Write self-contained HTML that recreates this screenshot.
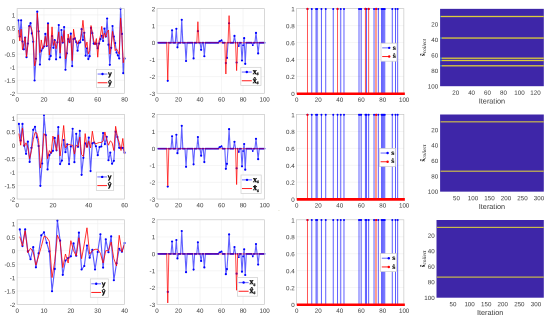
<!DOCTYPE html>
<html><head><meta charset="utf-8"><title>figure</title>
<style>html,body{margin:0;padding:0;background:#fff;}svg{display:block;}</style>
</head><body>
<svg width="550" height="320" viewBox="0 0 550 320" text-rendering="geometricPrecision" font-family='"Liberation Sans", sans-serif'>
<rect width="550" height="320" fill="#fff"/>
<rect x="17.1" y="8.65" width="107.5" height="84.65" fill="#fff"/>
<line x1="43.98" y1="8.65" x2="43.98" y2="93.3" stroke="#efefef" stroke-width="0.6"/>
<line x1="70.85" y1="8.65" x2="70.85" y2="93.3" stroke="#efefef" stroke-width="0.6"/>
<line x1="97.72" y1="8.65" x2="97.72" y2="93.3" stroke="#efefef" stroke-width="0.6"/>
<line x1="17.1" y1="80.22" x2="124.6" y2="80.22" stroke="#efefef" stroke-width="0.6"/>
<line x1="17.1" y1="67.14" x2="124.6" y2="67.14" stroke="#efefef" stroke-width="0.6"/>
<line x1="17.1" y1="54.06" x2="124.6" y2="54.06" stroke="#efefef" stroke-width="0.6"/>
<line x1="17.1" y1="40.98" x2="124.6" y2="40.98" stroke="#efefef" stroke-width="0.6"/>
<line x1="17.1" y1="27.9" x2="124.6" y2="27.9" stroke="#efefef" stroke-width="0.6"/>
<line x1="17.1" y1="14.82" x2="124.6" y2="14.82" stroke="#efefef" stroke-width="0.6"/>
<polyline points="18.44,20.32 19.79,36.54 21.13,20.32 22.48,41.51 23.82,49.35 25.16,37.58 26.51,57.2 27.85,43.6 29.19,26.07 30.54,23.19 31.88,33.4 33.23,41.77 34.57,80.48 35.91,58.77 37.26,11.68 38.6,31.3 39.94,64.53 41.29,50.66 42.63,48.31 43.98,46.48 45.32,33.92 46.66,45.95 48.01,23.46 49.35,59.29 50.69,55.89 52.04,36.01 53.38,47.78 54.73,40.2 56.07,59.29 57.41,42.29 58.76,25.03 60.1,57.46 61.44,30 62.79,42.55 64.13,27.12 65.47,69.76 66.82,53.28 68.16,39.15 69.51,42.03 70.85,33.66 72.19,66.09 73.54,39.15 74.88,38.37 76.22,42.03 77.57,50.66 78.91,42.81 80.26,42.29 81.6,29.21 82.94,39.94 84.29,32.87 85.63,55.63 86.97,48.31 88.32,59.03 89.66,56.15 91.01,27.9 92.35,33.13 93.69,43.6 95.04,43.6 96.38,43.6 97.72,48.31 99.07,43.6 100.41,39.15 101.76,35.75 103.1,40.98 104.44,28.69 105.79,36.54 107.13,18.49 108.47,44.64 109.82,64.79 111.16,47.78 112.51,26.07 113.85,36.54 115.19,43.08 116.54,52.49 117.88,55.37 119.22,58.51 120.57,8.81 121.91,33.92 123.26,73.16 124.6,58.51" fill="none" stroke="#0000ff" stroke-width="1.15" stroke-linejoin="round" stroke-opacity="0.65"/>
<circle cx="18.44" cy="20.32" r="1.1" fill="#0000ff"/>
<circle cx="19.79" cy="36.54" r="1.1" fill="#0000ff"/>
<circle cx="21.13" cy="20.32" r="1.1" fill="#0000ff"/>
<circle cx="22.48" cy="41.51" r="1.1" fill="#0000ff"/>
<circle cx="23.82" cy="49.35" r="1.1" fill="#0000ff"/>
<circle cx="25.16" cy="37.58" r="1.1" fill="#0000ff"/>
<circle cx="26.51" cy="57.2" r="1.1" fill="#0000ff"/>
<circle cx="27.85" cy="43.6" r="1.1" fill="#0000ff"/>
<circle cx="29.19" cy="26.07" r="1.1" fill="#0000ff"/>
<circle cx="30.54" cy="23.19" r="1.1" fill="#0000ff"/>
<circle cx="31.88" cy="33.4" r="1.1" fill="#0000ff"/>
<circle cx="33.23" cy="41.77" r="1.1" fill="#0000ff"/>
<circle cx="34.57" cy="80.48" r="1.1" fill="#0000ff"/>
<circle cx="35.91" cy="58.77" r="1.1" fill="#0000ff"/>
<circle cx="37.26" cy="11.68" r="1.1" fill="#0000ff"/>
<circle cx="38.6" cy="31.3" r="1.1" fill="#0000ff"/>
<circle cx="39.94" cy="64.53" r="1.1" fill="#0000ff"/>
<circle cx="41.29" cy="50.66" r="1.1" fill="#0000ff"/>
<circle cx="42.63" cy="48.31" r="1.1" fill="#0000ff"/>
<circle cx="43.98" cy="46.48" r="1.1" fill="#0000ff"/>
<circle cx="45.32" cy="33.92" r="1.1" fill="#0000ff"/>
<circle cx="46.66" cy="45.95" r="1.1" fill="#0000ff"/>
<circle cx="48.01" cy="23.46" r="1.1" fill="#0000ff"/>
<circle cx="49.35" cy="59.29" r="1.1" fill="#0000ff"/>
<circle cx="50.69" cy="55.89" r="1.1" fill="#0000ff"/>
<circle cx="52.04" cy="36.01" r="1.1" fill="#0000ff"/>
<circle cx="53.38" cy="47.78" r="1.1" fill="#0000ff"/>
<circle cx="54.73" cy="40.2" r="1.1" fill="#0000ff"/>
<circle cx="56.07" cy="59.29" r="1.1" fill="#0000ff"/>
<circle cx="57.41" cy="42.29" r="1.1" fill="#0000ff"/>
<circle cx="58.76" cy="25.03" r="1.1" fill="#0000ff"/>
<circle cx="60.1" cy="57.46" r="1.1" fill="#0000ff"/>
<circle cx="61.44" cy="30" r="1.1" fill="#0000ff"/>
<circle cx="62.79" cy="42.55" r="1.1" fill="#0000ff"/>
<circle cx="64.13" cy="27.12" r="1.1" fill="#0000ff"/>
<circle cx="65.47" cy="69.76" r="1.1" fill="#0000ff"/>
<circle cx="66.82" cy="53.28" r="1.1" fill="#0000ff"/>
<circle cx="68.16" cy="39.15" r="1.1" fill="#0000ff"/>
<circle cx="69.51" cy="42.03" r="1.1" fill="#0000ff"/>
<circle cx="70.85" cy="33.66" r="1.1" fill="#0000ff"/>
<circle cx="72.19" cy="66.09" r="1.1" fill="#0000ff"/>
<circle cx="73.54" cy="39.15" r="1.1" fill="#0000ff"/>
<circle cx="74.88" cy="38.37" r="1.1" fill="#0000ff"/>
<circle cx="76.22" cy="42.03" r="1.1" fill="#0000ff"/>
<circle cx="77.57" cy="50.66" r="1.1" fill="#0000ff"/>
<circle cx="78.91" cy="42.81" r="1.1" fill="#0000ff"/>
<circle cx="80.26" cy="42.29" r="1.1" fill="#0000ff"/>
<circle cx="81.6" cy="29.21" r="1.1" fill="#0000ff"/>
<circle cx="82.94" cy="39.94" r="1.1" fill="#0000ff"/>
<circle cx="84.29" cy="32.87" r="1.1" fill="#0000ff"/>
<circle cx="85.63" cy="55.63" r="1.1" fill="#0000ff"/>
<circle cx="86.97" cy="48.31" r="1.1" fill="#0000ff"/>
<circle cx="88.32" cy="59.03" r="1.1" fill="#0000ff"/>
<circle cx="89.66" cy="56.15" r="1.1" fill="#0000ff"/>
<circle cx="91.01" cy="27.9" r="1.1" fill="#0000ff"/>
<circle cx="92.35" cy="33.13" r="1.1" fill="#0000ff"/>
<circle cx="93.69" cy="43.6" r="1.1" fill="#0000ff"/>
<circle cx="95.04" cy="43.6" r="1.1" fill="#0000ff"/>
<circle cx="96.38" cy="43.6" r="1.1" fill="#0000ff"/>
<circle cx="97.72" cy="48.31" r="1.1" fill="#0000ff"/>
<circle cx="99.07" cy="43.6" r="1.1" fill="#0000ff"/>
<circle cx="100.41" cy="39.15" r="1.1" fill="#0000ff"/>
<circle cx="101.76" cy="35.75" r="1.1" fill="#0000ff"/>
<circle cx="103.1" cy="40.98" r="1.1" fill="#0000ff"/>
<circle cx="104.44" cy="28.69" r="1.1" fill="#0000ff"/>
<circle cx="105.79" cy="36.54" r="1.1" fill="#0000ff"/>
<circle cx="107.13" cy="18.49" r="1.1" fill="#0000ff"/>
<circle cx="108.47" cy="44.64" r="1.1" fill="#0000ff"/>
<circle cx="109.82" cy="64.79" r="1.1" fill="#0000ff"/>
<circle cx="111.16" cy="47.78" r="1.1" fill="#0000ff"/>
<circle cx="112.51" cy="26.07" r="1.1" fill="#0000ff"/>
<circle cx="113.85" cy="36.54" r="1.1" fill="#0000ff"/>
<circle cx="115.19" cy="43.08" r="1.1" fill="#0000ff"/>
<circle cx="116.54" cy="52.49" r="1.1" fill="#0000ff"/>
<circle cx="117.88" cy="55.37" r="1.1" fill="#0000ff"/>
<circle cx="119.22" cy="58.51" r="1.1" fill="#0000ff"/>
<circle cx="120.57" cy="8.81" r="1.1" fill="#0000ff"/>
<circle cx="121.91" cy="33.92" r="1.1" fill="#0000ff"/>
<circle cx="123.26" cy="73.16" r="1.1" fill="#0000ff"/>
<circle cx="124.6" cy="58.51" r="1.1" fill="#0000ff"/>
<polyline points="18.44,30 19.79,40.98 21.13,29.21 22.48,49.88 23.82,43.45 25.16,37.06 26.51,56.94 27.85,45.04 29.19,26.07 30.54,26.22 31.88,30 33.23,38.75 34.57,65.83 35.91,60.6 37.26,12.99 38.6,32.09 39.94,52.75 41.29,39.94 42.63,48.59 43.98,45.95 45.32,36.37 46.66,46.1 48.01,23.98 49.35,54.98 50.69,46.25 52.04,26.86 53.38,45.48 54.73,40.63 56.07,48.79 57.41,41.57 58.76,31.83 60.1,53.15 61.44,36.04 62.79,42.41 64.13,30.43 65.47,58.97 66.82,52.56 68.16,33.97 69.51,42.89 70.85,35.53 72.19,60.6 73.54,29.21 74.88,38.37 76.22,40.73 77.57,44.19 78.91,40.37 80.26,40.13 81.6,33.53 82.94,20.32 84.29,34.46 85.63,47.57 86.97,41.98 88.32,53.8 89.66,50.69 91.01,25.55 92.35,33.13 93.69,40.72 95.04,45.04 96.38,38.56 97.72,57.2 99.07,40.98 100.41,35.75 101.76,26.33 103.1,38.37 104.44,33.13 105.79,37.06 107.13,31.83 108.47,30 109.82,54.06 111.16,46.21 112.51,31.3 113.85,40.98 115.19,50.66 116.54,48.83 117.88,51.45 119.22,54.06 120.57,17.96 121.91,35.75 123.26,62.69 124.6,56.68" fill="none" stroke="#ff0000" stroke-width="0.85" stroke-linejoin="round" stroke-opacity="0.95"/>
<rect x="17.1" y="8.65" width="107.5" height="84.65" fill="none" stroke="#c6c6c6" stroke-width="0.7"/>
<text transform="translate(17.1,101.6) rotate(0.05)" font-size="6.2" text-anchor="middle" fill="#3a3a3a">0</text>
<text transform="translate(43.98,101.6) rotate(0.05)" font-size="6.2" text-anchor="middle" fill="#3a3a3a">20</text>
<text transform="translate(70.85,101.6) rotate(0.05)" font-size="6.2" text-anchor="middle" fill="#3a3a3a">40</text>
<text transform="translate(97.72,101.6) rotate(0.05)" font-size="6.2" text-anchor="middle" fill="#3a3a3a">60</text>
<text transform="translate(124.6,101.6) rotate(0.05)" font-size="6.2" text-anchor="middle" fill="#3a3a3a">80</text>
<text transform="translate(15.2,95.9) rotate(0.05)" font-size="6.2" text-anchor="end" fill="#3a3a3a">-2</text>
<text transform="translate(15.2,82.82) rotate(0.05)" font-size="6.2" text-anchor="end" fill="#3a3a3a">-1.5</text>
<text transform="translate(15.2,69.74) rotate(0.05)" font-size="6.2" text-anchor="end" fill="#3a3a3a">-1</text>
<text transform="translate(15.2,56.66) rotate(0.05)" font-size="6.2" text-anchor="end" fill="#3a3a3a">-0.5</text>
<text transform="translate(15.2,43.58) rotate(0.05)" font-size="6.2" text-anchor="end" fill="#3a3a3a">0</text>
<text transform="translate(15.2,30.5) rotate(0.05)" font-size="6.2" text-anchor="end" fill="#3a3a3a">0.5</text>
<text transform="translate(15.2,17.42) rotate(0.05)" font-size="6.2" text-anchor="end" fill="#3a3a3a">1</text>
<rect x="96.6" y="69.3" width="18" height="18.2" fill="#fff" stroke="#cecece" stroke-width="0.7"/>
<line x1="97.6" y1="74.05" x2="107.4" y2="74.05" stroke="#0000ff" stroke-width="1.2" stroke-opacity="0.5"/>
<circle cx="102.5" cy="74.05" r="1.2" fill="#0000ff"/>
<text x="108" y="75.85" font-family='"Liberation Sans", sans-serif' font-weight="bold" font-size="6.8" fill="#000" stroke="#000" stroke-width="0.2">y</text>
<line x1="97.6" y1="82.75" x2="107.4" y2="82.75" stroke="#ff0000" stroke-width="0.9"/>
<text x="108" y="84.55" font-family='"Liberation Sans", sans-serif' font-weight="bold" font-size="6.8" fill="#000" stroke="#000" stroke-width="0.2">ŷ</text>
<rect x="157" y="8.65" width="107.6" height="84.65" fill="#fff"/>
<line x1="178.52" y1="8.65" x2="178.52" y2="93.3" stroke="#efefef" stroke-width="0.6"/>
<line x1="200.04" y1="8.65" x2="200.04" y2="93.3" stroke="#efefef" stroke-width="0.6"/>
<line x1="221.56" y1="8.65" x2="221.56" y2="93.3" stroke="#efefef" stroke-width="0.6"/>
<line x1="243.08" y1="8.65" x2="243.08" y2="93.3" stroke="#efefef" stroke-width="0.6"/>
<line x1="157" y1="76.57" x2="264.6" y2="76.57" stroke="#efefef" stroke-width="0.6"/>
<line x1="157" y1="59.64" x2="264.6" y2="59.64" stroke="#efefef" stroke-width="0.6"/>
<line x1="157" y1="42.71" x2="264.6" y2="42.71" stroke="#efefef" stroke-width="0.6"/>
<line x1="157" y1="25.78" x2="264.6" y2="25.78" stroke="#efefef" stroke-width="0.6"/>
<polyline points="158.08,42.71 159.15,42.71 160.23,42.71 161.3,42.71 162.38,42.71 163.46,42.71 164.53,42.71 165.61,42.71 166.68,42.71" fill="none" stroke="#0000ff" stroke-width="1.1" stroke-linejoin="round" stroke-opacity="0.62"/>
<polyline points="168.84,42.71 169.91,42.71 170.99,42.71 172.06,30.35 173.14,42.71 174.22,42.71 175.29,42.71 176.37,28.83 177.44,47.28 178.52,42.71 179.6,42.71 180.67,42.71 181.75,19.85 182.82,42.71 183.9,42.71 184.98,42.71 186.05,60.99 187.13,42.71 188.2,42.71 189.28,42.71 190.36,42.71 191.43,42.71 192.51,42.71 193.58,58.45 194.66,42.71 195.74,42.71 196.81,42.71" fill="none" stroke="#0000ff" stroke-width="1.1" stroke-linejoin="round" stroke-opacity="0.62"/>
<polyline points="198.96,42.71 200.04,42.71 201.12,49.82 202.19,42.71 203.27,42.71 204.34,56.25 205.42,42.71 206.5,42.71 207.57,42.71 208.65,42.71 209.72,42.71 210.8,42.71 211.88,42.71 212.95,42.71 214.03,42.71 215.1,42.71 216.18,42.71 217.26,42.71 218.33,42.71 219.41,41.19 220.48,41.02 221.56,40.17 222.64,42.71 223.71,42.71 224.79,42.71" fill="none" stroke="#0000ff" stroke-width="1.1" stroke-linejoin="round" stroke-opacity="0.62"/>
<polyline points="226.94,57.95 228.02,42.71" fill="none" stroke="#0000ff" stroke-width="1.1" stroke-linejoin="round" stroke-opacity="0.62"/>
<polyline points="230.17,42.71 231.24,42.71 232.32,42.71 233.4,42.71 234.47,35.94 235.55,42.71" fill="none" stroke="#0000ff" stroke-width="1.1" stroke-linejoin="round" stroke-opacity="0.62"/>
<polyline points="237.7,42.71 238.78,46.1 239.85,42.71 240.93,42.71 242,60.49 243.08,45.25 244.16,38.14 245.23,63.87 246.31,42.71 247.38,42.71 248.46,42.71 249.54,42.71 250.61,42.71 251.69,42.71 252.76,45.25 253.84,42.71 254.92,42.71 255.99,32.89 257.07,42.71 258.14,53.38 259.22,42.71 260.3,42.71 261.37,42.71 262.45,42.71 263.52,42.71 264.6,42.71" fill="none" stroke="#0000ff" stroke-width="1.1" stroke-linejoin="round" stroke-opacity="0.62"/>
<circle cx="158.08" cy="42.71" r="0.85" fill="#0000ff"/>
<circle cx="159.15" cy="42.71" r="0.85" fill="#0000ff"/>
<circle cx="160.23" cy="42.71" r="0.85" fill="#0000ff"/>
<circle cx="161.3" cy="42.71" r="0.85" fill="#0000ff"/>
<circle cx="162.38" cy="42.71" r="0.85" fill="#0000ff"/>
<circle cx="163.46" cy="42.71" r="0.85" fill="#0000ff"/>
<circle cx="164.53" cy="42.71" r="0.85" fill="#0000ff"/>
<circle cx="165.61" cy="42.71" r="0.85" fill="#0000ff"/>
<circle cx="166.68" cy="42.71" r="0.85" fill="#0000ff"/>
<circle cx="167.76" cy="80.8" r="1.1" fill="#0000ff"/>
<circle cx="168.84" cy="42.71" r="0.85" fill="#0000ff"/>
<circle cx="169.91" cy="42.71" r="0.85" fill="#0000ff"/>
<circle cx="170.99" cy="42.71" r="0.85" fill="#0000ff"/>
<circle cx="172.06" cy="30.35" r="1.1" fill="#0000ff"/>
<circle cx="173.14" cy="42.71" r="0.85" fill="#0000ff"/>
<circle cx="174.22" cy="42.71" r="0.85" fill="#0000ff"/>
<circle cx="175.29" cy="42.71" r="0.85" fill="#0000ff"/>
<circle cx="176.37" cy="28.83" r="1.1" fill="#0000ff"/>
<circle cx="177.44" cy="47.28" r="1.1" fill="#0000ff"/>
<circle cx="178.52" cy="42.71" r="0.85" fill="#0000ff"/>
<circle cx="179.6" cy="42.71" r="0.85" fill="#0000ff"/>
<circle cx="180.67" cy="42.71" r="0.85" fill="#0000ff"/>
<circle cx="181.75" cy="19.85" r="1.1" fill="#0000ff"/>
<circle cx="182.82" cy="42.71" r="0.85" fill="#0000ff"/>
<circle cx="183.9" cy="42.71" r="0.85" fill="#0000ff"/>
<circle cx="184.98" cy="42.71" r="0.85" fill="#0000ff"/>
<circle cx="186.05" cy="60.99" r="1.1" fill="#0000ff"/>
<circle cx="187.13" cy="42.71" r="0.85" fill="#0000ff"/>
<circle cx="188.2" cy="42.71" r="0.85" fill="#0000ff"/>
<circle cx="189.28" cy="42.71" r="0.85" fill="#0000ff"/>
<circle cx="190.36" cy="42.71" r="0.85" fill="#0000ff"/>
<circle cx="191.43" cy="42.71" r="0.85" fill="#0000ff"/>
<circle cx="192.51" cy="42.71" r="0.85" fill="#0000ff"/>
<circle cx="193.58" cy="58.45" r="1.1" fill="#0000ff"/>
<circle cx="194.66" cy="42.71" r="0.85" fill="#0000ff"/>
<circle cx="195.74" cy="42.71" r="0.85" fill="#0000ff"/>
<circle cx="196.81" cy="42.71" r="0.85" fill="#0000ff"/>
<circle cx="197.89" cy="31.2" r="1.1" fill="#0000ff"/>
<circle cx="198.96" cy="42.71" r="0.85" fill="#0000ff"/>
<circle cx="200.04" cy="42.71" r="0.85" fill="#0000ff"/>
<circle cx="201.12" cy="49.82" r="1.1" fill="#0000ff"/>
<circle cx="202.19" cy="42.71" r="0.85" fill="#0000ff"/>
<circle cx="203.27" cy="42.71" r="0.85" fill="#0000ff"/>
<circle cx="204.34" cy="56.25" r="1.1" fill="#0000ff"/>
<circle cx="205.42" cy="42.71" r="0.85" fill="#0000ff"/>
<circle cx="206.5" cy="42.71" r="0.85" fill="#0000ff"/>
<circle cx="207.57" cy="42.71" r="0.85" fill="#0000ff"/>
<circle cx="208.65" cy="42.71" r="0.85" fill="#0000ff"/>
<circle cx="209.72" cy="42.71" r="0.85" fill="#0000ff"/>
<circle cx="210.8" cy="42.71" r="0.85" fill="#0000ff"/>
<circle cx="211.88" cy="42.71" r="0.85" fill="#0000ff"/>
<circle cx="212.95" cy="42.71" r="0.85" fill="#0000ff"/>
<circle cx="214.03" cy="42.71" r="0.85" fill="#0000ff"/>
<circle cx="215.1" cy="42.71" r="0.85" fill="#0000ff"/>
<circle cx="216.18" cy="42.71" r="0.85" fill="#0000ff"/>
<circle cx="217.26" cy="42.71" r="0.85" fill="#0000ff"/>
<circle cx="218.33" cy="42.71" r="0.85" fill="#0000ff"/>
<circle cx="219.41" cy="41.19" r="0.85" fill="#0000ff"/>
<circle cx="220.48" cy="41.02" r="0.85" fill="#0000ff"/>
<circle cx="221.56" cy="40.17" r="0.85" fill="#0000ff"/>
<circle cx="222.64" cy="42.71" r="0.85" fill="#0000ff"/>
<circle cx="223.71" cy="42.71" r="0.85" fill="#0000ff"/>
<circle cx="224.79" cy="42.71" r="0.85" fill="#0000ff"/>
<circle cx="225.86" cy="63.03" r="1.1" fill="#0000ff"/>
<circle cx="226.94" cy="57.95" r="1.1" fill="#0000ff"/>
<circle cx="228.02" cy="42.71" r="0.85" fill="#0000ff"/>
<circle cx="229.09" cy="23.24" r="1.1" fill="#0000ff"/>
<circle cx="230.17" cy="42.71" r="0.85" fill="#0000ff"/>
<circle cx="231.24" cy="42.71" r="0.85" fill="#0000ff"/>
<circle cx="232.32" cy="42.71" r="0.85" fill="#0000ff"/>
<circle cx="233.4" cy="42.71" r="0.85" fill="#0000ff"/>
<circle cx="234.47" cy="35.94" r="1.1" fill="#0000ff"/>
<circle cx="235.55" cy="42.71" r="0.85" fill="#0000ff"/>
<circle cx="236.62" cy="62.52" r="1.1" fill="#0000ff"/>
<circle cx="237.7" cy="42.71" r="0.85" fill="#0000ff"/>
<circle cx="238.78" cy="46.1" r="0.85" fill="#0000ff"/>
<circle cx="239.85" cy="42.71" r="0.85" fill="#0000ff"/>
<circle cx="240.93" cy="42.71" r="0.85" fill="#0000ff"/>
<circle cx="242" cy="60.49" r="1.1" fill="#0000ff"/>
<circle cx="243.08" cy="45.25" r="0.85" fill="#0000ff"/>
<circle cx="244.16" cy="38.14" r="1.1" fill="#0000ff"/>
<circle cx="245.23" cy="63.87" r="1.1" fill="#0000ff"/>
<circle cx="246.31" cy="42.71" r="0.85" fill="#0000ff"/>
<circle cx="247.38" cy="42.71" r="0.85" fill="#0000ff"/>
<circle cx="248.46" cy="42.71" r="0.85" fill="#0000ff"/>
<circle cx="249.54" cy="42.71" r="0.85" fill="#0000ff"/>
<circle cx="250.61" cy="42.71" r="0.85" fill="#0000ff"/>
<circle cx="251.69" cy="42.71" r="0.85" fill="#0000ff"/>
<circle cx="252.76" cy="45.25" r="0.85" fill="#0000ff"/>
<circle cx="253.84" cy="42.71" r="0.85" fill="#0000ff"/>
<circle cx="254.92" cy="42.71" r="0.85" fill="#0000ff"/>
<circle cx="255.99" cy="32.89" r="1.1" fill="#0000ff"/>
<circle cx="257.07" cy="42.71" r="0.85" fill="#0000ff"/>
<circle cx="258.14" cy="53.38" r="1.1" fill="#0000ff"/>
<circle cx="259.22" cy="42.71" r="0.85" fill="#0000ff"/>
<circle cx="260.3" cy="42.71" r="0.85" fill="#0000ff"/>
<circle cx="261.37" cy="42.71" r="0.85" fill="#0000ff"/>
<circle cx="262.45" cy="42.71" r="0.85" fill="#0000ff"/>
<circle cx="263.52" cy="42.71" r="0.85" fill="#0000ff"/>
<circle cx="264.6" cy="42.71" r="0.85" fill="#0000ff"/>
<line x1="158.08" y1="42.71" x2="264.6" y2="42.71" stroke="#ff0000" stroke-width="1.3" stroke-opacity="0.42"/>
<polyline points="166.68,42.71 167.76,79.96 168.84,42.71" fill="none" stroke="#ff0000" stroke-width="0.8" stroke-linejoin="round" stroke-opacity="0.9"/>
<polyline points="196.81,42.71 197.89,21.72 198.96,42.71" fill="none" stroke="#ff0000" stroke-width="0.8" stroke-linejoin="round" stroke-opacity="0.9"/>
<polyline points="224.79,42.71 225.86,74.03 226.94,42.71" fill="none" stroke="#ff0000" stroke-width="0.8" stroke-linejoin="round" stroke-opacity="0.9"/>
<polyline points="228.02,42.71 229.09,15.62 230.17,42.71" fill="none" stroke="#ff0000" stroke-width="0.8" stroke-linejoin="round" stroke-opacity="0.9"/>
<polyline points="235.55,42.71 236.62,70.64 237.7,42.71" fill="none" stroke="#ff0000" stroke-width="0.8" stroke-linejoin="round" stroke-opacity="0.9"/>
<rect x="157" y="8.65" width="107.6" height="84.65" fill="none" stroke="#c6c6c6" stroke-width="0.7"/>
<text transform="translate(157,101.6) rotate(0.05)" font-size="6.2" text-anchor="middle" fill="#3a3a3a">0</text>
<text transform="translate(178.52,101.6) rotate(0.05)" font-size="6.2" text-anchor="middle" fill="#3a3a3a">20</text>
<text transform="translate(200.04,101.6) rotate(0.05)" font-size="6.2" text-anchor="middle" fill="#3a3a3a">40</text>
<text transform="translate(221.56,101.6) rotate(0.05)" font-size="6.2" text-anchor="middle" fill="#3a3a3a">60</text>
<text transform="translate(243.08,101.6) rotate(0.05)" font-size="6.2" text-anchor="middle" fill="#3a3a3a">80</text>
<text transform="translate(264.6,101.6) rotate(0.05)" font-size="6.2" text-anchor="middle" fill="#3a3a3a">100</text>
<text transform="translate(155.1,95.9) rotate(0.05)" font-size="6.2" text-anchor="end" fill="#3a3a3a">-3</text>
<text transform="translate(155.1,78.97) rotate(0.05)" font-size="6.2" text-anchor="end" fill="#3a3a3a">-2</text>
<text transform="translate(155.1,62.04) rotate(0.05)" font-size="6.2" text-anchor="end" fill="#3a3a3a">-1</text>
<text transform="translate(155.1,45.11) rotate(0.05)" font-size="6.2" text-anchor="end" fill="#3a3a3a">0</text>
<text transform="translate(155.1,28.18) rotate(0.05)" font-size="6.2" text-anchor="end" fill="#3a3a3a">1</text>
<text transform="translate(155.1,11.25) rotate(0.05)" font-size="6.2" text-anchor="end" fill="#3a3a3a">2</text>
<rect x="240.8" y="67.3" width="20.2" height="18.2" fill="#fff" stroke="#cecece" stroke-width="0.7"/>
<line x1="241.8" y1="72.05" x2="251.8" y2="72.05" stroke="#0000ff" stroke-width="1.2" stroke-opacity="0.5"/>
<circle cx="246.8" cy="72.05" r="1.2" fill="#0000ff"/>
<text x="252.7" y="73.95" font-family='"Liberation Serif", serif' font-weight="bold" font-size="8" fill="#000" stroke="#000" stroke-width="0.25">x<tspan font-size="4.96" font-style="italic" dy="1.1">s</tspan></text>
<line x1="241.8" y1="80.75" x2="251.8" y2="80.75" stroke="#ff0000" stroke-width="0.9"/>
<text x="252.7" y="82.65" font-family='"Liberation Serif", serif' font-weight="bold" font-size="8" fill="#000" stroke="#000" stroke-width="0.25">x̂<tspan font-size="4.96" font-style="italic" dy="1.1">s</tspan></text>
<rect x="296.5" y="8.65" width="107.35" height="84.75" fill="#fff"/>
<line x1="318.22" y1="8.65" x2="318.22" y2="93.4" stroke="#efefef" stroke-width="0.6"/>
<line x1="339.69" y1="8.65" x2="339.69" y2="93.4" stroke="#efefef" stroke-width="0.6"/>
<line x1="361.16" y1="8.65" x2="361.16" y2="93.4" stroke="#efefef" stroke-width="0.6"/>
<line x1="382.63" y1="8.65" x2="382.63" y2="93.4" stroke="#efefef" stroke-width="0.6"/>
<line x1="296.5" y1="76.45" x2="403.85" y2="76.45" stroke="#efefef" stroke-width="0.6"/>
<line x1="296.5" y1="59.5" x2="403.85" y2="59.5" stroke="#efefef" stroke-width="0.6"/>
<line x1="296.5" y1="42.55" x2="403.85" y2="42.55" stroke="#efefef" stroke-width="0.6"/>
<line x1="296.5" y1="25.6" x2="403.85" y2="25.6" stroke="#efefef" stroke-width="0.6"/>
<line x1="311.78" y1="93.4" x2="311.78" y2="8.65" stroke="#0000ff" stroke-width="0.85" stroke-opacity="0.75"/>
<line x1="316.07" y1="93.4" x2="316.07" y2="8.65" stroke="#0000ff" stroke-width="0.85" stroke-opacity="0.75"/>
<line x1="317.15" y1="93.4" x2="317.15" y2="8.65" stroke="#0000ff" stroke-width="0.85" stroke-opacity="0.75"/>
<line x1="321.44" y1="93.4" x2="321.44" y2="8.65" stroke="#0000ff" stroke-width="0.85" stroke-opacity="0.75"/>
<line x1="325.73" y1="93.4" x2="325.73" y2="8.65" stroke="#0000ff" stroke-width="0.85" stroke-opacity="0.75"/>
<line x1="333.25" y1="93.4" x2="333.25" y2="8.65" stroke="#0000ff" stroke-width="0.85" stroke-opacity="0.75"/>
<line x1="340.76" y1="93.4" x2="340.76" y2="8.65" stroke="#0000ff" stroke-width="0.85" stroke-opacity="0.75"/>
<line x1="343.98" y1="93.4" x2="343.98" y2="8.65" stroke="#0000ff" stroke-width="0.85" stroke-opacity="0.75"/>
<line x1="359.01" y1="93.4" x2="359.01" y2="8.65" stroke="#0000ff" stroke-width="0.85" stroke-opacity="0.75"/>
<line x1="361.16" y1="93.4" x2="361.16" y2="8.65" stroke="#0000ff" stroke-width="0.85" stroke-opacity="0.75"/>
<line x1="366.53" y1="93.4" x2="366.53" y2="8.65" stroke="#0000ff" stroke-width="0.85" stroke-opacity="0.75"/>
<line x1="374.04" y1="93.4" x2="374.04" y2="8.65" stroke="#0000ff" stroke-width="0.85" stroke-opacity="0.75"/>
<line x1="378.34" y1="93.4" x2="378.34" y2="8.65" stroke="#0000ff" stroke-width="0.85" stroke-opacity="0.75"/>
<line x1="381.56" y1="93.4" x2="381.56" y2="8.65" stroke="#0000ff" stroke-width="0.85" stroke-opacity="0.75"/>
<line x1="382.63" y1="93.4" x2="382.63" y2="8.65" stroke="#0000ff" stroke-width="0.85" stroke-opacity="0.75"/>
<line x1="383.7" y1="93.4" x2="383.7" y2="8.65" stroke="#0000ff" stroke-width="0.85" stroke-opacity="0.75"/>
<line x1="384.78" y1="93.4" x2="384.78" y2="8.65" stroke="#0000ff" stroke-width="0.85" stroke-opacity="0.75"/>
<line x1="392.29" y1="93.4" x2="392.29" y2="8.65" stroke="#0000ff" stroke-width="0.85" stroke-opacity="0.75"/>
<line x1="395.51" y1="93.4" x2="395.51" y2="8.65" stroke="#0000ff" stroke-width="0.85" stroke-opacity="0.75"/>
<line x1="397.66" y1="93.4" x2="397.66" y2="8.65" stroke="#0000ff" stroke-width="0.85" stroke-opacity="0.75"/>
<rect x="296.5" y="8.65" width="107.35" height="84.75" fill="none" stroke="#c6c6c6" stroke-width="0.7"/>
<circle cx="307.49" cy="8.9" r="1.0" fill="#0000ff"/>
<circle cx="311.78" cy="8.9" r="1.0" fill="#0000ff"/>
<circle cx="316.07" cy="8.9" r="1.0" fill="#0000ff"/>
<circle cx="317.15" cy="8.9" r="1.0" fill="#0000ff"/>
<circle cx="321.44" cy="8.9" r="1.0" fill="#0000ff"/>
<circle cx="325.73" cy="8.9" r="1.0" fill="#0000ff"/>
<circle cx="333.25" cy="8.9" r="1.0" fill="#0000ff"/>
<circle cx="337.54" cy="8.9" r="1.0" fill="#0000ff"/>
<circle cx="340.76" cy="8.9" r="1.0" fill="#0000ff"/>
<circle cx="343.98" cy="8.9" r="1.0" fill="#0000ff"/>
<circle cx="359.01" cy="8.9" r="1.0" fill="#0000ff"/>
<circle cx="360.09" cy="8.9" r="1.0" fill="#0000ff"/>
<circle cx="361.16" cy="8.9" r="1.0" fill="#0000ff"/>
<circle cx="365.45" cy="8.9" r="1.0" fill="#0000ff"/>
<circle cx="366.53" cy="8.9" r="1.0" fill="#0000ff"/>
<circle cx="368.67" cy="8.9" r="1.0" fill="#0000ff"/>
<circle cx="374.04" cy="8.9" r="1.0" fill="#0000ff"/>
<circle cx="376.19" cy="8.9" r="1.0" fill="#0000ff"/>
<circle cx="378.34" cy="8.9" r="1.0" fill="#0000ff"/>
<circle cx="381.56" cy="8.9" r="1.0" fill="#0000ff"/>
<circle cx="382.63" cy="8.9" r="1.0" fill="#0000ff"/>
<circle cx="383.7" cy="8.9" r="1.0" fill="#0000ff"/>
<circle cx="384.78" cy="8.9" r="1.0" fill="#0000ff"/>
<circle cx="392.29" cy="8.9" r="1.0" fill="#0000ff"/>
<circle cx="395.51" cy="8.9" r="1.0" fill="#0000ff"/>
<circle cx="397.66" cy="8.9" r="1.0" fill="#0000ff"/>
<line x1="307.49" y1="93.4" x2="307.49" y2="8.65" stroke="#ff0000" stroke-width="0.8" stroke-opacity="0.85"/>
<circle cx="307.49" cy="8.9" r="1.05" fill="#ff0000"/>
<line x1="337.54" y1="93.4" x2="337.54" y2="8.65" stroke="#ff0000" stroke-width="0.8" stroke-opacity="0.85"/>
<circle cx="337.54" cy="8.9" r="1.05" fill="#ff0000"/>
<line x1="365.45" y1="93.4" x2="365.45" y2="8.65" stroke="#ff0000" stroke-width="0.8" stroke-opacity="0.85"/>
<circle cx="365.45" cy="8.9" r="1.05" fill="#ff0000"/>
<line x1="368.67" y1="93.4" x2="368.67" y2="8.65" stroke="#ff0000" stroke-width="0.8" stroke-opacity="0.85"/>
<circle cx="368.67" cy="8.9" r="1.05" fill="#ff0000"/>
<line x1="375.99" y1="93.4" x2="375.99" y2="8.65" stroke="#ff3010" stroke-width="1.7" stroke-opacity="0.55"/>
<circle cx="376.19" cy="8.9" r="1.05" fill="#ff0000"/>
<line x1="296.8" y1="93.7" x2="404.85" y2="93.7" stroke="#ff0000" stroke-width="2.6"/>
<text transform="translate(296.75,101.7) rotate(0.05)" font-size="6.2" text-anchor="middle" fill="#3a3a3a">0</text>
<text transform="translate(318.22,101.7) rotate(0.05)" font-size="6.2" text-anchor="middle" fill="#3a3a3a">20</text>
<text transform="translate(339.69,101.7) rotate(0.05)" font-size="6.2" text-anchor="middle" fill="#3a3a3a">40</text>
<text transform="translate(361.16,101.7) rotate(0.05)" font-size="6.2" text-anchor="middle" fill="#3a3a3a">60</text>
<text transform="translate(382.63,101.7) rotate(0.05)" font-size="6.2" text-anchor="middle" fill="#3a3a3a">80</text>
<text transform="translate(404.1,101.7) rotate(0.05)" font-size="6.2" text-anchor="middle" fill="#3a3a3a">100</text>
<text transform="translate(294.6,96) rotate(0.05)" font-size="6.2" text-anchor="end" fill="#3a3a3a">0</text>
<text transform="translate(294.6,79.05) rotate(0.05)" font-size="6.2" text-anchor="end" fill="#3a3a3a">0.2</text>
<text transform="translate(294.6,62.1) rotate(0.05)" font-size="6.2" text-anchor="end" fill="#3a3a3a">0.4</text>
<text transform="translate(294.6,45.15) rotate(0.05)" font-size="6.2" text-anchor="end" fill="#3a3a3a">0.6</text>
<text transform="translate(294.6,28.2) rotate(0.05)" font-size="6.2" text-anchor="end" fill="#3a3a3a">0.8</text>
<text transform="translate(294.6,11.25) rotate(0.05)" font-size="6.2" text-anchor="end" fill="#3a3a3a">1</text>
<rect x="381" y="43.2" width="16" height="18" fill="#fff" stroke="#cecece" stroke-width="0.7"/>
<line x1="382.2" y1="47.85" x2="389.8" y2="47.85" stroke="#0000ff" stroke-width="1.2" stroke-opacity="0.5"/>
<circle cx="389.2" cy="47.85" r="1.2" fill="#0000ff"/>
<text x="392.5" y="49.55" font-family='"Liberation Sans", sans-serif' font-weight="bold" font-size="6.4" fill="#000" stroke="#000" stroke-width="0">s</text>
<line x1="382.2" y1="56.55" x2="389.8" y2="56.55" stroke="#ff0000" stroke-width="0.9"/>
<circle cx="389.2" cy="56.55" r="1.2" fill="#ff0000"/>
<text x="392.5" y="58.25" font-family='"Liberation Sans", sans-serif' font-weight="bold" font-size="6.4" fill="#000" stroke="#000" stroke-width="0">ŝ</text>
<rect x="440.1" y="8.85" width="103.7" height="77.35" fill="#3e26a8"/>
<rect x="440.1" y="15.85" width="0.9" height="1.3" fill="#3f8ed2"/>
<rect x="440.7" y="15.85" width="103.1" height="1.3" fill="#dccc3a"/>
<rect x="440.1" y="37.4" width="2.1" height="1.3" fill="#3f8ed2"/>
<rect x="441.9" y="37.4" width="101.9" height="1.3" fill="#dccc3a"/>
<rect x="440.1" y="57.55" width="2.1" height="1.3" fill="#3f8ed2"/>
<rect x="441.9" y="57.55" width="101.9" height="1.3" fill="#dccc3a"/>
<rect x="440.1" y="59.85" width="2.1" height="1.3" fill="#3f8ed2"/>
<rect x="441.9" y="59.85" width="101.9" height="1.3" fill="#dccc3a"/>
<rect x="440.1" y="65.15" width="2.1" height="1.3" fill="#3f8ed2"/>
<rect x="441.9" y="65.15" width="101.9" height="1.3" fill="#dccc3a"/>
<text transform="translate(455.66,94.7) rotate(0.05)" font-size="6.2" text-anchor="middle" fill="#3a3a3a">20</text>
<text transform="translate(471.61,94.7) rotate(0.05)" font-size="6.2" text-anchor="middle" fill="#3a3a3a">40</text>
<text transform="translate(487.56,94.7) rotate(0.05)" font-size="6.2" text-anchor="middle" fill="#3a3a3a">60</text>
<text transform="translate(503.52,94.7) rotate(0.05)" font-size="6.2" text-anchor="middle" fill="#3a3a3a">80</text>
<text transform="translate(519.47,94.7) rotate(0.05)" font-size="6.2" text-anchor="middle" fill="#3a3a3a">100</text>
<text transform="translate(535.42,94.7) rotate(0.05)" font-size="6.2" text-anchor="middle" fill="#3a3a3a">120</text>
<text transform="translate(438.2,26.53) rotate(0.05)" font-size="6.2" text-anchor="end" fill="#3a3a3a">20</text>
<text transform="translate(438.2,42) rotate(0.05)" font-size="6.2" text-anchor="end" fill="#3a3a3a">40</text>
<text transform="translate(438.2,57.47) rotate(0.05)" font-size="6.2" text-anchor="end" fill="#3a3a3a">60</text>
<text transform="translate(438.2,72.94) rotate(0.05)" font-size="6.2" text-anchor="end" fill="#3a3a3a">80</text>
<text transform="translate(438.2,88.41) rotate(0.05)" font-size="6.2" text-anchor="end" fill="#3a3a3a">100</text>
<text transform="translate(491.95,103.6) rotate(0.05)" font-size="7.3" text-anchor="middle" fill="#3a3a3a">Iteration</text>
<text transform="translate(425,47.52) rotate(-90)" text-anchor="middle" font-family='"Liberation Serif", serif' font-size="7" fill="#000"><tspan font-weight="bold">ŝ</tspan><tspan font-size="5.3" font-style="italic" dy="1.2">collect</tspan></text>
<rect x="17.1" y="114.6" width="107.5" height="84.45" fill="#fff"/>
<line x1="52.93" y1="114.6" x2="52.93" y2="199.05" stroke="#efefef" stroke-width="0.6"/>
<line x1="88.77" y1="114.6" x2="88.77" y2="199.05" stroke="#efefef" stroke-width="0.6"/>
<line x1="17.1" y1="185.58" x2="124.6" y2="185.58" stroke="#efefef" stroke-width="0.6"/>
<line x1="17.1" y1="172.11" x2="124.6" y2="172.11" stroke="#efefef" stroke-width="0.6"/>
<line x1="17.1" y1="158.64" x2="124.6" y2="158.64" stroke="#efefef" stroke-width="0.6"/>
<line x1="17.1" y1="145.17" x2="124.6" y2="145.17" stroke="#efefef" stroke-width="0.6"/>
<line x1="17.1" y1="131.71" x2="124.6" y2="131.71" stroke="#efefef" stroke-width="0.6"/>
<line x1="17.1" y1="118.24" x2="124.6" y2="118.24" stroke="#efefef" stroke-width="0.6"/>
<polyline points="18.89,123.89 20.68,140.59 22.48,123.89 24.27,145.71 26.06,153.79 27.85,141.67 29.64,161.88 31.43,147.87 33.23,129.82 35.02,126.86 36.81,137.36 38.6,145.98 40.39,185.85 42.18,163.49 43.98,115 45.77,135.21 47.56,169.42 49.35,155.14 51.14,152.72 52.93,150.83 54.73,137.9 56.52,150.29 58.31,127.13 60.1,164.03 61.89,160.53 63.68,140.06 65.47,152.18 67.27,144.37 69.06,164.03 70.85,146.52 72.64,128.74 74.43,162.15 76.22,133.86 78.02,146.79 79.81,130.9 81.6,174.81 83.39,157.84 85.18,143.29 86.97,146.25 88.77,137.63 90.56,171.03 92.35,143.29 94.14,142.48 95.93,146.25 97.72,155.14 99.52,147.06 101.31,146.52 103.1,133.05 104.89,144.1 106.68,136.82 108.47,160.26 110.27,152.72 112.06,163.76 113.85,160.8 115.64,131.71 117.43,137.09 119.22,147.87 121.02,147.87 122.81,147.87 124.6,152.72" fill="none" stroke="#0000ff" stroke-width="1.15" stroke-linejoin="round" stroke-opacity="0.65"/>
<circle cx="18.89" cy="123.89" r="1.1" fill="#0000ff"/>
<circle cx="20.68" cy="140.59" r="1.1" fill="#0000ff"/>
<circle cx="22.48" cy="123.89" r="1.1" fill="#0000ff"/>
<circle cx="24.27" cy="145.71" r="1.1" fill="#0000ff"/>
<circle cx="26.06" cy="153.79" r="1.1" fill="#0000ff"/>
<circle cx="27.85" cy="141.67" r="1.1" fill="#0000ff"/>
<circle cx="29.64" cy="161.88" r="1.1" fill="#0000ff"/>
<circle cx="31.43" cy="147.87" r="1.1" fill="#0000ff"/>
<circle cx="33.23" cy="129.82" r="1.1" fill="#0000ff"/>
<circle cx="35.02" cy="126.86" r="1.1" fill="#0000ff"/>
<circle cx="36.81" cy="137.36" r="1.1" fill="#0000ff"/>
<circle cx="38.6" cy="145.98" r="1.1" fill="#0000ff"/>
<circle cx="40.39" cy="185.85" r="1.1" fill="#0000ff"/>
<circle cx="42.18" cy="163.49" r="1.1" fill="#0000ff"/>
<circle cx="43.98" cy="115" r="1.1" fill="#0000ff"/>
<circle cx="45.77" cy="135.21" r="1.1" fill="#0000ff"/>
<circle cx="47.56" cy="169.42" r="1.1" fill="#0000ff"/>
<circle cx="49.35" cy="155.14" r="1.1" fill="#0000ff"/>
<circle cx="51.14" cy="152.72" r="1.1" fill="#0000ff"/>
<circle cx="52.93" cy="150.83" r="1.1" fill="#0000ff"/>
<circle cx="54.73" cy="137.9" r="1.1" fill="#0000ff"/>
<circle cx="56.52" cy="150.29" r="1.1" fill="#0000ff"/>
<circle cx="58.31" cy="127.13" r="1.1" fill="#0000ff"/>
<circle cx="60.1" cy="164.03" r="1.1" fill="#0000ff"/>
<circle cx="61.89" cy="160.53" r="1.1" fill="#0000ff"/>
<circle cx="63.68" cy="140.06" r="1.1" fill="#0000ff"/>
<circle cx="65.47" cy="152.18" r="1.1" fill="#0000ff"/>
<circle cx="67.27" cy="144.37" r="1.1" fill="#0000ff"/>
<circle cx="69.06" cy="164.03" r="1.1" fill="#0000ff"/>
<circle cx="70.85" cy="146.52" r="1.1" fill="#0000ff"/>
<circle cx="72.64" cy="128.74" r="1.1" fill="#0000ff"/>
<circle cx="74.43" cy="162.15" r="1.1" fill="#0000ff"/>
<circle cx="76.22" cy="133.86" r="1.1" fill="#0000ff"/>
<circle cx="78.02" cy="146.79" r="1.1" fill="#0000ff"/>
<circle cx="79.81" cy="130.9" r="1.1" fill="#0000ff"/>
<circle cx="81.6" cy="174.81" r="1.1" fill="#0000ff"/>
<circle cx="83.39" cy="157.84" r="1.1" fill="#0000ff"/>
<circle cx="85.18" cy="143.29" r="1.1" fill="#0000ff"/>
<circle cx="86.97" cy="146.25" r="1.1" fill="#0000ff"/>
<circle cx="88.77" cy="137.63" r="1.1" fill="#0000ff"/>
<circle cx="90.56" cy="171.03" r="1.1" fill="#0000ff"/>
<circle cx="92.35" cy="143.29" r="1.1" fill="#0000ff"/>
<circle cx="94.14" cy="142.48" r="1.1" fill="#0000ff"/>
<circle cx="95.93" cy="146.25" r="1.1" fill="#0000ff"/>
<circle cx="97.72" cy="155.14" r="1.1" fill="#0000ff"/>
<circle cx="99.52" cy="147.06" r="1.1" fill="#0000ff"/>
<circle cx="101.31" cy="146.52" r="1.1" fill="#0000ff"/>
<circle cx="103.1" cy="133.05" r="1.1" fill="#0000ff"/>
<circle cx="104.89" cy="144.1" r="1.1" fill="#0000ff"/>
<circle cx="106.68" cy="136.82" r="1.1" fill="#0000ff"/>
<circle cx="108.47" cy="160.26" r="1.1" fill="#0000ff"/>
<circle cx="110.27" cy="152.72" r="1.1" fill="#0000ff"/>
<circle cx="112.06" cy="163.76" r="1.1" fill="#0000ff"/>
<circle cx="113.85" cy="160.8" r="1.1" fill="#0000ff"/>
<circle cx="115.64" cy="131.71" r="1.1" fill="#0000ff"/>
<circle cx="117.43" cy="137.09" r="1.1" fill="#0000ff"/>
<circle cx="119.22" cy="147.87" r="1.1" fill="#0000ff"/>
<circle cx="121.02" cy="147.87" r="1.1" fill="#0000ff"/>
<circle cx="122.81" cy="147.87" r="1.1" fill="#0000ff"/>
<circle cx="124.6" cy="152.72" r="1.1" fill="#0000ff"/>
<polyline points="18.89,133.59 20.68,145.17 22.48,128.2 24.27,146.25 26.06,142.75 27.85,147.87 29.64,158.64 31.43,150.56 33.23,139.79 35.02,132.51 36.81,133.05 38.6,140.33 40.39,168.07 42.18,155.95 43.98,133.59 45.77,136.02 47.56,158.64 49.35,150.56 51.14,153.26 52.93,136.02 54.73,142.48 56.52,150.56 58.31,134.8 60.1,155.95 61.89,142.48 63.68,125.51 65.47,147.87 67.27,145.17 69.06,144.37 70.85,145.17 72.64,145.17 74.43,154.06 76.22,145.17 78.02,146.52 79.81,137.09 81.6,154.6 83.39,156.49 85.18,133.59 86.97,147.87 88.77,141.13 90.56,147.87 92.35,131.17 94.14,142.48 95.93,143.83 97.72,143.02 99.52,142.48 101.31,142.48 103.1,141.13 104.89,131.97 106.68,139.79 108.47,145.17 110.27,140.86 112.06,142.48 113.85,150.56 115.64,126.32 117.43,137.09 119.22,142.48 121.02,150.56 122.81,138.44 124.6,154.06" fill="none" stroke="#ff0000" stroke-width="0.85" stroke-linejoin="round" stroke-opacity="0.95"/>
<rect x="17.1" y="114.6" width="107.5" height="84.45" fill="none" stroke="#c6c6c6" stroke-width="0.7"/>
<text transform="translate(17.1,207.35) rotate(0.05)" font-size="6.2" text-anchor="middle" fill="#3a3a3a">0</text>
<text transform="translate(52.93,207.35) rotate(0.05)" font-size="6.2" text-anchor="middle" fill="#3a3a3a">20</text>
<text transform="translate(88.77,207.35) rotate(0.05)" font-size="6.2" text-anchor="middle" fill="#3a3a3a">40</text>
<text transform="translate(124.6,207.35) rotate(0.05)" font-size="6.2" text-anchor="middle" fill="#3a3a3a">60</text>
<text transform="translate(15.2,201.65) rotate(0.05)" font-size="6.2" text-anchor="end" fill="#3a3a3a">-2</text>
<text transform="translate(15.2,188.18) rotate(0.05)" font-size="6.2" text-anchor="end" fill="#3a3a3a">-1.5</text>
<text transform="translate(15.2,174.71) rotate(0.05)" font-size="6.2" text-anchor="end" fill="#3a3a3a">-1</text>
<text transform="translate(15.2,161.24) rotate(0.05)" font-size="6.2" text-anchor="end" fill="#3a3a3a">-0.5</text>
<text transform="translate(15.2,147.77) rotate(0.05)" font-size="6.2" text-anchor="end" fill="#3a3a3a">0</text>
<text transform="translate(15.2,134.31) rotate(0.05)" font-size="6.2" text-anchor="end" fill="#3a3a3a">0.5</text>
<text transform="translate(15.2,120.84) rotate(0.05)" font-size="6.2" text-anchor="end" fill="#3a3a3a">1</text>
<rect x="96.3" y="172.1" width="17.4" height="18.3" fill="#fff" stroke="#cecece" stroke-width="0.7"/>
<line x1="97.3" y1="176.9" x2="107.1" y2="176.9" stroke="#0000ff" stroke-width="1.2" stroke-opacity="0.5"/>
<circle cx="102.2" cy="176.9" r="1.2" fill="#0000ff"/>
<text x="107.7" y="178.7" font-family='"Liberation Sans", sans-serif' font-weight="bold" font-size="6.8" fill="#000" stroke="#000" stroke-width="0.2">y</text>
<line x1="97.3" y1="185.6" x2="107.1" y2="185.6" stroke="#ff0000" stroke-width="0.9"/>
<text x="107.7" y="187.4" font-family='"Liberation Sans", sans-serif' font-weight="bold" font-size="6.8" fill="#000" stroke="#000" stroke-width="0.2">ŷ</text>
<rect x="157" y="114.6" width="107.6" height="84.45" fill="#fff"/>
<line x1="178.52" y1="114.6" x2="178.52" y2="199.05" stroke="#efefef" stroke-width="0.6"/>
<line x1="200.04" y1="114.6" x2="200.04" y2="199.05" stroke="#efefef" stroke-width="0.6"/>
<line x1="221.56" y1="114.6" x2="221.56" y2="199.05" stroke="#efefef" stroke-width="0.6"/>
<line x1="243.08" y1="114.6" x2="243.08" y2="199.05" stroke="#efefef" stroke-width="0.6"/>
<line x1="157" y1="182.36" x2="264.6" y2="182.36" stroke="#efefef" stroke-width="0.6"/>
<line x1="157" y1="165.47" x2="264.6" y2="165.47" stroke="#efefef" stroke-width="0.6"/>
<line x1="157" y1="148.58" x2="264.6" y2="148.58" stroke="#efefef" stroke-width="0.6"/>
<line x1="157" y1="131.69" x2="264.6" y2="131.69" stroke="#efefef" stroke-width="0.6"/>
<polyline points="158.08,148.58 159.15,148.58 160.23,148.58 161.3,148.58 162.38,148.58 163.46,148.58 164.53,148.58 165.61,148.58 166.68,148.58" fill="none" stroke="#0000ff" stroke-width="1.1" stroke-linejoin="round" stroke-opacity="0.62"/>
<polyline points="168.84,148.58 169.91,148.58 170.99,148.58 172.06,136.25 173.14,148.58 174.22,148.58 175.29,148.58 176.37,134.73 177.44,153.14 178.52,148.58 179.6,148.58 180.67,148.58 181.75,125.78 182.82,148.58 183.9,148.58 184.98,148.58 186.05,166.82 187.13,148.58 188.2,148.58 189.28,148.58 190.36,148.58 191.43,148.58 192.51,148.58 193.58,164.29 194.66,148.58 195.74,148.58 196.81,148.58 197.89,137.09 198.96,148.58 200.04,148.58 201.12,155.67 202.19,148.58 203.27,148.58 204.34,162.09 205.42,148.58 206.5,148.58 207.57,148.58 208.65,148.58 209.72,148.58 210.8,148.58 211.88,148.58 212.95,148.58 214.03,148.58 215.1,148.58 216.18,148.58 217.26,148.58 218.33,148.58 219.41,147.06 220.48,146.89 221.56,146.05 222.64,148.58 223.71,148.58 224.79,148.58 225.86,168.85 226.94,163.78 228.02,148.58 229.09,129.16 230.17,148.58 231.24,148.58 232.32,148.58 233.4,148.58 234.47,141.82 235.55,148.58" fill="none" stroke="#0000ff" stroke-width="1.1" stroke-linejoin="round" stroke-opacity="0.62"/>
<polyline points="237.7,148.58 238.78,151.96 239.85,148.58 240.93,148.58 242,166.31 243.08,151.11 244.16,144.02 245.23,169.69 246.31,148.58 247.38,148.58 248.46,148.58 249.54,148.58 250.61,148.58 251.69,148.58 252.76,151.11 253.84,148.58 254.92,148.58 255.99,138.78 257.07,148.58 258.14,159.22 259.22,148.58 260.3,148.58 261.37,148.58 262.45,148.58 263.52,148.58 264.6,148.58" fill="none" stroke="#0000ff" stroke-width="1.1" stroke-linejoin="round" stroke-opacity="0.62"/>
<circle cx="158.08" cy="148.58" r="0.85" fill="#0000ff"/>
<circle cx="159.15" cy="148.58" r="0.85" fill="#0000ff"/>
<circle cx="160.23" cy="148.58" r="0.85" fill="#0000ff"/>
<circle cx="161.3" cy="148.58" r="0.85" fill="#0000ff"/>
<circle cx="162.38" cy="148.58" r="0.85" fill="#0000ff"/>
<circle cx="163.46" cy="148.58" r="0.85" fill="#0000ff"/>
<circle cx="164.53" cy="148.58" r="0.85" fill="#0000ff"/>
<circle cx="165.61" cy="148.58" r="0.85" fill="#0000ff"/>
<circle cx="166.68" cy="148.58" r="0.85" fill="#0000ff"/>
<circle cx="167.76" cy="186.58" r="1.1" fill="#0000ff"/>
<circle cx="168.84" cy="148.58" r="0.85" fill="#0000ff"/>
<circle cx="169.91" cy="148.58" r="0.85" fill="#0000ff"/>
<circle cx="170.99" cy="148.58" r="0.85" fill="#0000ff"/>
<circle cx="172.06" cy="136.25" r="1.1" fill="#0000ff"/>
<circle cx="173.14" cy="148.58" r="0.85" fill="#0000ff"/>
<circle cx="174.22" cy="148.58" r="0.85" fill="#0000ff"/>
<circle cx="175.29" cy="148.58" r="0.85" fill="#0000ff"/>
<circle cx="176.37" cy="134.73" r="1.1" fill="#0000ff"/>
<circle cx="177.44" cy="153.14" r="1.1" fill="#0000ff"/>
<circle cx="178.52" cy="148.58" r="0.85" fill="#0000ff"/>
<circle cx="179.6" cy="148.58" r="0.85" fill="#0000ff"/>
<circle cx="180.67" cy="148.58" r="0.85" fill="#0000ff"/>
<circle cx="181.75" cy="125.78" r="1.1" fill="#0000ff"/>
<circle cx="182.82" cy="148.58" r="0.85" fill="#0000ff"/>
<circle cx="183.9" cy="148.58" r="0.85" fill="#0000ff"/>
<circle cx="184.98" cy="148.58" r="0.85" fill="#0000ff"/>
<circle cx="186.05" cy="166.82" r="1.1" fill="#0000ff"/>
<circle cx="187.13" cy="148.58" r="0.85" fill="#0000ff"/>
<circle cx="188.2" cy="148.58" r="0.85" fill="#0000ff"/>
<circle cx="189.28" cy="148.58" r="0.85" fill="#0000ff"/>
<circle cx="190.36" cy="148.58" r="0.85" fill="#0000ff"/>
<circle cx="191.43" cy="148.58" r="0.85" fill="#0000ff"/>
<circle cx="192.51" cy="148.58" r="0.85" fill="#0000ff"/>
<circle cx="193.58" cy="164.29" r="1.1" fill="#0000ff"/>
<circle cx="194.66" cy="148.58" r="0.85" fill="#0000ff"/>
<circle cx="195.74" cy="148.58" r="0.85" fill="#0000ff"/>
<circle cx="196.81" cy="148.58" r="0.85" fill="#0000ff"/>
<circle cx="197.89" cy="137.09" r="1.1" fill="#0000ff"/>
<circle cx="198.96" cy="148.58" r="0.85" fill="#0000ff"/>
<circle cx="200.04" cy="148.58" r="0.85" fill="#0000ff"/>
<circle cx="201.12" cy="155.67" r="1.1" fill="#0000ff"/>
<circle cx="202.19" cy="148.58" r="0.85" fill="#0000ff"/>
<circle cx="203.27" cy="148.58" r="0.85" fill="#0000ff"/>
<circle cx="204.34" cy="162.09" r="1.1" fill="#0000ff"/>
<circle cx="205.42" cy="148.58" r="0.85" fill="#0000ff"/>
<circle cx="206.5" cy="148.58" r="0.85" fill="#0000ff"/>
<circle cx="207.57" cy="148.58" r="0.85" fill="#0000ff"/>
<circle cx="208.65" cy="148.58" r="0.85" fill="#0000ff"/>
<circle cx="209.72" cy="148.58" r="0.85" fill="#0000ff"/>
<circle cx="210.8" cy="148.58" r="0.85" fill="#0000ff"/>
<circle cx="211.88" cy="148.58" r="0.85" fill="#0000ff"/>
<circle cx="212.95" cy="148.58" r="0.85" fill="#0000ff"/>
<circle cx="214.03" cy="148.58" r="0.85" fill="#0000ff"/>
<circle cx="215.1" cy="148.58" r="0.85" fill="#0000ff"/>
<circle cx="216.18" cy="148.58" r="0.85" fill="#0000ff"/>
<circle cx="217.26" cy="148.58" r="0.85" fill="#0000ff"/>
<circle cx="218.33" cy="148.58" r="0.85" fill="#0000ff"/>
<circle cx="219.41" cy="147.06" r="0.85" fill="#0000ff"/>
<circle cx="220.48" cy="146.89" r="0.85" fill="#0000ff"/>
<circle cx="221.56" cy="146.05" r="0.85" fill="#0000ff"/>
<circle cx="222.64" cy="148.58" r="0.85" fill="#0000ff"/>
<circle cx="223.71" cy="148.58" r="0.85" fill="#0000ff"/>
<circle cx="224.79" cy="148.58" r="0.85" fill="#0000ff"/>
<circle cx="225.86" cy="168.85" r="1.1" fill="#0000ff"/>
<circle cx="226.94" cy="163.78" r="1.1" fill="#0000ff"/>
<circle cx="228.02" cy="148.58" r="0.85" fill="#0000ff"/>
<circle cx="229.09" cy="129.16" r="1.1" fill="#0000ff"/>
<circle cx="230.17" cy="148.58" r="0.85" fill="#0000ff"/>
<circle cx="231.24" cy="148.58" r="0.85" fill="#0000ff"/>
<circle cx="232.32" cy="148.58" r="0.85" fill="#0000ff"/>
<circle cx="233.4" cy="148.58" r="0.85" fill="#0000ff"/>
<circle cx="234.47" cy="141.82" r="1.1" fill="#0000ff"/>
<circle cx="235.55" cy="148.58" r="0.85" fill="#0000ff"/>
<circle cx="236.62" cy="168.34" r="1.1" fill="#0000ff"/>
<circle cx="237.7" cy="148.58" r="0.85" fill="#0000ff"/>
<circle cx="238.78" cy="151.96" r="0.85" fill="#0000ff"/>
<circle cx="239.85" cy="148.58" r="0.85" fill="#0000ff"/>
<circle cx="240.93" cy="148.58" r="0.85" fill="#0000ff"/>
<circle cx="242" cy="166.31" r="1.1" fill="#0000ff"/>
<circle cx="243.08" cy="151.11" r="0.85" fill="#0000ff"/>
<circle cx="244.16" cy="144.02" r="1.1" fill="#0000ff"/>
<circle cx="245.23" cy="169.69" r="1.1" fill="#0000ff"/>
<circle cx="246.31" cy="148.58" r="0.85" fill="#0000ff"/>
<circle cx="247.38" cy="148.58" r="0.85" fill="#0000ff"/>
<circle cx="248.46" cy="148.58" r="0.85" fill="#0000ff"/>
<circle cx="249.54" cy="148.58" r="0.85" fill="#0000ff"/>
<circle cx="250.61" cy="148.58" r="0.85" fill="#0000ff"/>
<circle cx="251.69" cy="148.58" r="0.85" fill="#0000ff"/>
<circle cx="252.76" cy="151.11" r="0.85" fill="#0000ff"/>
<circle cx="253.84" cy="148.58" r="0.85" fill="#0000ff"/>
<circle cx="254.92" cy="148.58" r="0.85" fill="#0000ff"/>
<circle cx="255.99" cy="138.78" r="1.1" fill="#0000ff"/>
<circle cx="257.07" cy="148.58" r="0.85" fill="#0000ff"/>
<circle cx="258.14" cy="159.22" r="1.1" fill="#0000ff"/>
<circle cx="259.22" cy="148.58" r="0.85" fill="#0000ff"/>
<circle cx="260.3" cy="148.58" r="0.85" fill="#0000ff"/>
<circle cx="261.37" cy="148.58" r="0.85" fill="#0000ff"/>
<circle cx="262.45" cy="148.58" r="0.85" fill="#0000ff"/>
<circle cx="263.52" cy="148.58" r="0.85" fill="#0000ff"/>
<circle cx="264.6" cy="148.58" r="0.85" fill="#0000ff"/>
<line x1="158.08" y1="148.58" x2="264.6" y2="148.58" stroke="#ff0000" stroke-width="1.3" stroke-opacity="0.42"/>
<polyline points="166.68,148.58 167.76,185.74 168.84,148.58" fill="none" stroke="#ff0000" stroke-width="0.8" stroke-linejoin="round" stroke-opacity="0.9"/>
<polyline points="235.55,148.58 236.62,184.56 237.7,148.58" fill="none" stroke="#ff0000" stroke-width="0.8" stroke-linejoin="round" stroke-opacity="0.9"/>
<rect x="157" y="114.6" width="107.6" height="84.45" fill="none" stroke="#c6c6c6" stroke-width="0.7"/>
<text transform="translate(157,207.35) rotate(0.05)" font-size="6.2" text-anchor="middle" fill="#3a3a3a">0</text>
<text transform="translate(178.52,207.35) rotate(0.05)" font-size="6.2" text-anchor="middle" fill="#3a3a3a">20</text>
<text transform="translate(200.04,207.35) rotate(0.05)" font-size="6.2" text-anchor="middle" fill="#3a3a3a">40</text>
<text transform="translate(221.56,207.35) rotate(0.05)" font-size="6.2" text-anchor="middle" fill="#3a3a3a">60</text>
<text transform="translate(243.08,207.35) rotate(0.05)" font-size="6.2" text-anchor="middle" fill="#3a3a3a">80</text>
<text transform="translate(264.6,207.35) rotate(0.05)" font-size="6.2" text-anchor="middle" fill="#3a3a3a">100</text>
<text transform="translate(155.1,201.65) rotate(0.05)" font-size="6.2" text-anchor="end" fill="#3a3a3a">-3</text>
<text transform="translate(155.1,184.76) rotate(0.05)" font-size="6.2" text-anchor="end" fill="#3a3a3a">-2</text>
<text transform="translate(155.1,167.87) rotate(0.05)" font-size="6.2" text-anchor="end" fill="#3a3a3a">-1</text>
<text transform="translate(155.1,150.98) rotate(0.05)" font-size="6.2" text-anchor="end" fill="#3a3a3a">0</text>
<text transform="translate(155.1,134.09) rotate(0.05)" font-size="6.2" text-anchor="end" fill="#3a3a3a">1</text>
<text transform="translate(155.1,117.2) rotate(0.05)" font-size="6.2" text-anchor="end" fill="#3a3a3a">2</text>
<rect x="241" y="175" width="20.2" height="18.4" fill="#fff" stroke="#cecece" stroke-width="0.7"/>
<line x1="242" y1="179.85" x2="252" y2="179.85" stroke="#0000ff" stroke-width="1.2" stroke-opacity="0.5"/>
<circle cx="247" cy="179.85" r="1.2" fill="#0000ff"/>
<text x="252.9" y="181.75" font-family='"Liberation Serif", serif' font-weight="bold" font-size="8" fill="#000" stroke="#000" stroke-width="0.25">x<tspan font-size="4.96" font-style="italic" dy="1.1">s</tspan></text>
<line x1="242" y1="188.55" x2="252" y2="188.55" stroke="#ff0000" stroke-width="0.9"/>
<text x="252.9" y="190.45" font-family='"Liberation Serif", serif' font-weight="bold" font-size="8" fill="#000" stroke="#000" stroke-width="0.25">x̂<tspan font-size="4.96" font-style="italic" dy="1.1">s</tspan></text>
<rect x="296.5" y="114.6" width="107.35" height="84.5" fill="#fff"/>
<line x1="318.22" y1="114.6" x2="318.22" y2="199.1" stroke="#efefef" stroke-width="0.6"/>
<line x1="339.69" y1="114.6" x2="339.69" y2="199.1" stroke="#efefef" stroke-width="0.6"/>
<line x1="361.16" y1="114.6" x2="361.16" y2="199.1" stroke="#efefef" stroke-width="0.6"/>
<line x1="382.63" y1="114.6" x2="382.63" y2="199.1" stroke="#efefef" stroke-width="0.6"/>
<line x1="296.5" y1="182.2" x2="403.85" y2="182.2" stroke="#efefef" stroke-width="0.6"/>
<line x1="296.5" y1="165.3" x2="403.85" y2="165.3" stroke="#efefef" stroke-width="0.6"/>
<line x1="296.5" y1="148.4" x2="403.85" y2="148.4" stroke="#efefef" stroke-width="0.6"/>
<line x1="296.5" y1="131.5" x2="403.85" y2="131.5" stroke="#efefef" stroke-width="0.6"/>
<line x1="311.78" y1="199.1" x2="311.78" y2="114.6" stroke="#0000ff" stroke-width="0.85" stroke-opacity="0.75"/>
<line x1="316.07" y1="199.1" x2="316.07" y2="114.6" stroke="#0000ff" stroke-width="0.85" stroke-opacity="0.75"/>
<line x1="317.15" y1="199.1" x2="317.15" y2="114.6" stroke="#0000ff" stroke-width="0.85" stroke-opacity="0.75"/>
<line x1="321.44" y1="199.1" x2="321.44" y2="114.6" stroke="#0000ff" stroke-width="0.85" stroke-opacity="0.75"/>
<line x1="325.73" y1="199.1" x2="325.73" y2="114.6" stroke="#0000ff" stroke-width="0.85" stroke-opacity="0.75"/>
<line x1="333.25" y1="199.1" x2="333.25" y2="114.6" stroke="#0000ff" stroke-width="0.85" stroke-opacity="0.75"/>
<line x1="337.54" y1="199.1" x2="337.54" y2="114.6" stroke="#0000ff" stroke-width="0.85" stroke-opacity="0.75"/>
<line x1="340.76" y1="199.1" x2="340.76" y2="114.6" stroke="#0000ff" stroke-width="0.85" stroke-opacity="0.75"/>
<line x1="343.98" y1="199.1" x2="343.98" y2="114.6" stroke="#0000ff" stroke-width="0.85" stroke-opacity="0.75"/>
<line x1="359.01" y1="199.1" x2="359.01" y2="114.6" stroke="#0000ff" stroke-width="0.85" stroke-opacity="0.75"/>
<line x1="361.16" y1="199.1" x2="361.16" y2="114.6" stroke="#0000ff" stroke-width="0.85" stroke-opacity="0.75"/>
<line x1="365.45" y1="199.1" x2="365.45" y2="114.6" stroke="#0000ff" stroke-width="0.85" stroke-opacity="0.75"/>
<line x1="366.53" y1="199.1" x2="366.53" y2="114.6" stroke="#0000ff" stroke-width="0.85" stroke-opacity="0.75"/>
<line x1="368.67" y1="199.1" x2="368.67" y2="114.6" stroke="#0000ff" stroke-width="0.85" stroke-opacity="0.75"/>
<line x1="374.04" y1="199.1" x2="374.04" y2="114.6" stroke="#0000ff" stroke-width="0.85" stroke-opacity="0.75"/>
<line x1="378.34" y1="199.1" x2="378.34" y2="114.6" stroke="#0000ff" stroke-width="0.85" stroke-opacity="0.75"/>
<line x1="381.56" y1="199.1" x2="381.56" y2="114.6" stroke="#0000ff" stroke-width="0.85" stroke-opacity="0.75"/>
<line x1="382.63" y1="199.1" x2="382.63" y2="114.6" stroke="#0000ff" stroke-width="0.85" stroke-opacity="0.75"/>
<line x1="383.7" y1="199.1" x2="383.7" y2="114.6" stroke="#0000ff" stroke-width="0.85" stroke-opacity="0.75"/>
<line x1="384.78" y1="199.1" x2="384.78" y2="114.6" stroke="#0000ff" stroke-width="0.85" stroke-opacity="0.75"/>
<line x1="392.29" y1="199.1" x2="392.29" y2="114.6" stroke="#0000ff" stroke-width="0.85" stroke-opacity="0.75"/>
<line x1="395.51" y1="199.1" x2="395.51" y2="114.6" stroke="#0000ff" stroke-width="0.85" stroke-opacity="0.75"/>
<line x1="397.66" y1="199.1" x2="397.66" y2="114.6" stroke="#0000ff" stroke-width="0.85" stroke-opacity="0.75"/>
<rect x="296.5" y="114.6" width="107.35" height="84.5" fill="none" stroke="#c6c6c6" stroke-width="0.7"/>
<circle cx="307.49" cy="114.85" r="1.0" fill="#0000ff"/>
<circle cx="311.78" cy="114.85" r="1.0" fill="#0000ff"/>
<circle cx="316.07" cy="114.85" r="1.0" fill="#0000ff"/>
<circle cx="317.15" cy="114.85" r="1.0" fill="#0000ff"/>
<circle cx="321.44" cy="114.85" r="1.0" fill="#0000ff"/>
<circle cx="325.73" cy="114.85" r="1.0" fill="#0000ff"/>
<circle cx="333.25" cy="114.85" r="1.0" fill="#0000ff"/>
<circle cx="337.54" cy="114.85" r="1.0" fill="#0000ff"/>
<circle cx="340.76" cy="114.85" r="1.0" fill="#0000ff"/>
<circle cx="343.98" cy="114.85" r="1.0" fill="#0000ff"/>
<circle cx="359.01" cy="114.85" r="1.0" fill="#0000ff"/>
<circle cx="360.09" cy="114.85" r="1.0" fill="#0000ff"/>
<circle cx="361.16" cy="114.85" r="1.0" fill="#0000ff"/>
<circle cx="365.45" cy="114.85" r="1.0" fill="#0000ff"/>
<circle cx="366.53" cy="114.85" r="1.0" fill="#0000ff"/>
<circle cx="368.67" cy="114.85" r="1.0" fill="#0000ff"/>
<circle cx="374.04" cy="114.85" r="1.0" fill="#0000ff"/>
<circle cx="376.19" cy="114.85" r="1.0" fill="#0000ff"/>
<circle cx="378.34" cy="114.85" r="1.0" fill="#0000ff"/>
<circle cx="381.56" cy="114.85" r="1.0" fill="#0000ff"/>
<circle cx="382.63" cy="114.85" r="1.0" fill="#0000ff"/>
<circle cx="383.7" cy="114.85" r="1.0" fill="#0000ff"/>
<circle cx="384.78" cy="114.85" r="1.0" fill="#0000ff"/>
<circle cx="392.29" cy="114.85" r="1.0" fill="#0000ff"/>
<circle cx="395.51" cy="114.85" r="1.0" fill="#0000ff"/>
<circle cx="397.66" cy="114.85" r="1.0" fill="#0000ff"/>
<line x1="307.49" y1="199.1" x2="307.49" y2="114.6" stroke="#ff0000" stroke-width="0.8" stroke-opacity="0.85"/>
<circle cx="307.49" cy="114.85" r="1.05" fill="#ff0000"/>
<line x1="375.99" y1="199.1" x2="375.99" y2="114.6" stroke="#ff3010" stroke-width="1.7" stroke-opacity="0.55"/>
<circle cx="376.19" cy="114.85" r="1.05" fill="#ff0000"/>
<line x1="296.8" y1="199.4" x2="404.85" y2="199.4" stroke="#ff0000" stroke-width="2.6"/>
<text transform="translate(296.75,207.4) rotate(0.05)" font-size="6.2" text-anchor="middle" fill="#3a3a3a">0</text>
<text transform="translate(318.22,207.4) rotate(0.05)" font-size="6.2" text-anchor="middle" fill="#3a3a3a">20</text>
<text transform="translate(339.69,207.4) rotate(0.05)" font-size="6.2" text-anchor="middle" fill="#3a3a3a">40</text>
<text transform="translate(361.16,207.4) rotate(0.05)" font-size="6.2" text-anchor="middle" fill="#3a3a3a">60</text>
<text transform="translate(382.63,207.4) rotate(0.05)" font-size="6.2" text-anchor="middle" fill="#3a3a3a">80</text>
<text transform="translate(404.1,207.4) rotate(0.05)" font-size="6.2" text-anchor="middle" fill="#3a3a3a">100</text>
<text transform="translate(294.6,201.7) rotate(0.05)" font-size="6.2" text-anchor="end" fill="#3a3a3a">0</text>
<text transform="translate(294.6,184.8) rotate(0.05)" font-size="6.2" text-anchor="end" fill="#3a3a3a">0.2</text>
<text transform="translate(294.6,167.9) rotate(0.05)" font-size="6.2" text-anchor="end" fill="#3a3a3a">0.4</text>
<text transform="translate(294.6,151) rotate(0.05)" font-size="6.2" text-anchor="end" fill="#3a3a3a">0.6</text>
<text transform="translate(294.6,134.1) rotate(0.05)" font-size="6.2" text-anchor="end" fill="#3a3a3a">0.8</text>
<text transform="translate(294.6,117.2) rotate(0.05)" font-size="6.2" text-anchor="end" fill="#3a3a3a">1</text>
<rect x="379.4" y="148.4" width="16" height="18" fill="#fff" stroke="#cecece" stroke-width="0.7"/>
<line x1="380.6" y1="153.05" x2="388.2" y2="153.05" stroke="#0000ff" stroke-width="1.2" stroke-opacity="0.5"/>
<circle cx="387.6" cy="153.05" r="1.2" fill="#0000ff"/>
<text x="390.9" y="154.75" font-family='"Liberation Sans", sans-serif' font-weight="bold" font-size="6.4" fill="#000" stroke="#000" stroke-width="0">s</text>
<line x1="380.6" y1="161.75" x2="388.2" y2="161.75" stroke="#ff0000" stroke-width="0.9"/>
<circle cx="387.6" cy="161.75" r="1.2" fill="#ff0000"/>
<text x="390.9" y="163.45" font-family='"Liberation Sans", sans-serif' font-weight="bold" font-size="6.4" fill="#000" stroke="#000" stroke-width="0">ŝ</text>
<rect x="440.1" y="114.5" width="103.7" height="77.15" fill="#3e26a8"/>
<rect x="440.5" y="121.25" width="103.3" height="1.15" fill="#d0c048"/>
<rect x="440.5" y="170.63" width="103.3" height="1.15" fill="#d0c048"/>
<text transform="translate(456.44,200.15) rotate(0.05)" font-size="6.2" text-anchor="middle" fill="#3a3a3a">50</text>
<text transform="translate(472.94,200.15) rotate(0.05)" font-size="6.2" text-anchor="middle" fill="#3a3a3a">100</text>
<text transform="translate(489.44,200.15) rotate(0.05)" font-size="6.2" text-anchor="middle" fill="#3a3a3a">150</text>
<text transform="translate(505.94,200.15) rotate(0.05)" font-size="6.2" text-anchor="middle" fill="#3a3a3a">200</text>
<text transform="translate(522.45,200.15) rotate(0.05)" font-size="6.2" text-anchor="middle" fill="#3a3a3a">250</text>
<text transform="translate(538.95,200.15) rotate(0.05)" font-size="6.2" text-anchor="middle" fill="#3a3a3a">300</text>
<text transform="translate(438.2,132.14) rotate(0.05)" font-size="6.2" text-anchor="end" fill="#3a3a3a">20</text>
<text transform="translate(438.2,147.57) rotate(0.05)" font-size="6.2" text-anchor="end" fill="#3a3a3a">40</text>
<text transform="translate(438.2,163) rotate(0.05)" font-size="6.2" text-anchor="end" fill="#3a3a3a">60</text>
<text transform="translate(438.2,178.43) rotate(0.05)" font-size="6.2" text-anchor="end" fill="#3a3a3a">80</text>
<text transform="translate(438.2,193.86) rotate(0.05)" font-size="6.2" text-anchor="end" fill="#3a3a3a">100</text>
<text transform="translate(491.95,209.05) rotate(0.05)" font-size="7.3" text-anchor="middle" fill="#3a3a3a">Iteration</text>
<text transform="translate(425,153.07) rotate(-90)" text-anchor="middle" font-family='"Liberation Serif", serif' font-size="7" fill="#000"><tspan font-weight="bold">ŝ</tspan><tspan font-size="5.3" font-style="italic" dy="1.2">collect</tspan></text>
<rect x="17.1" y="219.8" width="107.5" height="84.65" fill="#fff"/>
<line x1="43.98" y1="219.8" x2="43.98" y2="304.45" stroke="#efefef" stroke-width="0.6"/>
<line x1="70.85" y1="219.8" x2="70.85" y2="304.45" stroke="#efefef" stroke-width="0.6"/>
<line x1="97.72" y1="219.8" x2="97.72" y2="304.45" stroke="#efefef" stroke-width="0.6"/>
<line x1="17.1" y1="291" x2="124.6" y2="291" stroke="#efefef" stroke-width="0.6"/>
<line x1="17.1" y1="277.55" x2="124.6" y2="277.55" stroke="#efefef" stroke-width="0.6"/>
<line x1="17.1" y1="264.1" x2="124.6" y2="264.1" stroke="#efefef" stroke-width="0.6"/>
<line x1="17.1" y1="250.65" x2="124.6" y2="250.65" stroke="#efefef" stroke-width="0.6"/>
<line x1="17.1" y1="237.2" x2="124.6" y2="237.2" stroke="#efefef" stroke-width="0.6"/>
<line x1="17.1" y1="223.75" x2="124.6" y2="223.75" stroke="#efefef" stroke-width="0.6"/>
<polyline points="19.79,229.4 22.48,246.08 25.16,229.4 27.85,251.19 30.54,259.26 33.23,247.16 35.91,267.33 38.6,253.34 41.29,235.32 43.98,232.36 46.66,242.85 49.35,251.46 52.04,291.27 54.73,268.94 57.41,220.53 60.1,240.7 62.79,274.86 65.47,260.61 68.16,258.18 70.85,256.3 73.54,243.39 76.22,255.76 78.91,232.63 81.6,269.48 84.29,265.98 86.97,245.54 89.66,257.65 92.35,249.85 95.04,269.48 97.72,252 100.41,234.24 103.1,267.6 105.79,239.36 108.47,252.27 111.16,236.4 113.85,280.24 116.54,263.3 119.22,248.77 121.91,251.73 124.6,243.12" fill="none" stroke="#0000ff" stroke-width="1.15" stroke-linejoin="round" stroke-opacity="0.65"/>
<circle cx="19.79" cy="229.4" r="1.1" fill="#0000ff"/>
<circle cx="22.48" cy="246.08" r="1.1" fill="#0000ff"/>
<circle cx="25.16" cy="229.4" r="1.1" fill="#0000ff"/>
<circle cx="27.85" cy="251.19" r="1.1" fill="#0000ff"/>
<circle cx="30.54" cy="259.26" r="1.1" fill="#0000ff"/>
<circle cx="33.23" cy="247.16" r="1.1" fill="#0000ff"/>
<circle cx="35.91" cy="267.33" r="1.1" fill="#0000ff"/>
<circle cx="38.6" cy="253.34" r="1.1" fill="#0000ff"/>
<circle cx="41.29" cy="235.32" r="1.1" fill="#0000ff"/>
<circle cx="43.98" cy="232.36" r="1.1" fill="#0000ff"/>
<circle cx="46.66" cy="242.85" r="1.1" fill="#0000ff"/>
<circle cx="49.35" cy="251.46" r="1.1" fill="#0000ff"/>
<circle cx="52.04" cy="291.27" r="1.1" fill="#0000ff"/>
<circle cx="54.73" cy="268.94" r="1.1" fill="#0000ff"/>
<circle cx="57.41" cy="220.53" r="1.1" fill="#0000ff"/>
<circle cx="60.1" cy="240.7" r="1.1" fill="#0000ff"/>
<circle cx="62.79" cy="274.86" r="1.1" fill="#0000ff"/>
<circle cx="65.47" cy="260.61" r="1.1" fill="#0000ff"/>
<circle cx="68.16" cy="258.18" r="1.1" fill="#0000ff"/>
<circle cx="70.85" cy="256.3" r="1.1" fill="#0000ff"/>
<circle cx="73.54" cy="243.39" r="1.1" fill="#0000ff"/>
<circle cx="76.22" cy="255.76" r="1.1" fill="#0000ff"/>
<circle cx="78.91" cy="232.63" r="1.1" fill="#0000ff"/>
<circle cx="81.6" cy="269.48" r="1.1" fill="#0000ff"/>
<circle cx="84.29" cy="265.98" r="1.1" fill="#0000ff"/>
<circle cx="86.97" cy="245.54" r="1.1" fill="#0000ff"/>
<circle cx="89.66" cy="257.65" r="1.1" fill="#0000ff"/>
<circle cx="92.35" cy="249.85" r="1.1" fill="#0000ff"/>
<circle cx="95.04" cy="269.48" r="1.1" fill="#0000ff"/>
<circle cx="97.72" cy="252" r="1.1" fill="#0000ff"/>
<circle cx="100.41" cy="234.24" r="1.1" fill="#0000ff"/>
<circle cx="103.1" cy="267.6" r="1.1" fill="#0000ff"/>
<circle cx="105.79" cy="239.36" r="1.1" fill="#0000ff"/>
<circle cx="108.47" cy="252.27" r="1.1" fill="#0000ff"/>
<circle cx="111.16" cy="236.4" r="1.1" fill="#0000ff"/>
<circle cx="113.85" cy="280.24" r="1.1" fill="#0000ff"/>
<circle cx="116.54" cy="263.3" r="1.1" fill="#0000ff"/>
<circle cx="119.22" cy="248.77" r="1.1" fill="#0000ff"/>
<circle cx="121.91" cy="251.73" r="1.1" fill="#0000ff"/>
<circle cx="124.6" cy="243.12" r="1.1" fill="#0000ff"/>
<polyline points="19.79,236.67 22.48,246.08 25.16,230.75 27.85,252.8 30.54,248.23 33.23,252 35.91,265.18 38.6,256.03 41.29,246.62 43.98,236.4 46.66,237.2 49.35,241.24 52.04,277.55 54.73,261.41 57.41,235.32 60.1,241.24 62.79,267.6 65.47,254.02 68.16,263.03 70.85,240.7 73.54,250.65 76.22,256.03 78.91,237.74 81.6,258.72 84.29,243.93 86.97,227.79 89.66,254.02 92.35,250.65 95.04,249.31 97.72,249.31 100.41,253.34 103.1,263.03 105.79,250.65 108.47,250.65 111.16,242.05 113.85,258.72 116.54,265.98 119.22,235.32 121.91,252 124.6,244.2" fill="none" stroke="#ff0000" stroke-width="0.85" stroke-linejoin="round" stroke-opacity="0.95"/>
<rect x="17.1" y="219.8" width="107.5" height="84.65" fill="none" stroke="#c6c6c6" stroke-width="0.7"/>
<text transform="translate(17.1,312.75) rotate(0.05)" font-size="6.2" text-anchor="middle" fill="#3a3a3a">0</text>
<text transform="translate(43.98,312.75) rotate(0.05)" font-size="6.2" text-anchor="middle" fill="#3a3a3a">10</text>
<text transform="translate(70.85,312.75) rotate(0.05)" font-size="6.2" text-anchor="middle" fill="#3a3a3a">20</text>
<text transform="translate(97.72,312.75) rotate(0.05)" font-size="6.2" text-anchor="middle" fill="#3a3a3a">30</text>
<text transform="translate(124.6,312.75) rotate(0.05)" font-size="6.2" text-anchor="middle" fill="#3a3a3a">40</text>
<text transform="translate(15.2,307.05) rotate(0.05)" font-size="6.2" text-anchor="end" fill="#3a3a3a">-2</text>
<text transform="translate(15.2,293.6) rotate(0.05)" font-size="6.2" text-anchor="end" fill="#3a3a3a">-1.5</text>
<text transform="translate(15.2,280.15) rotate(0.05)" font-size="6.2" text-anchor="end" fill="#3a3a3a">-1</text>
<text transform="translate(15.2,266.7) rotate(0.05)" font-size="6.2" text-anchor="end" fill="#3a3a3a">-0.5</text>
<text transform="translate(15.2,253.25) rotate(0.05)" font-size="6.2" text-anchor="end" fill="#3a3a3a">0</text>
<text transform="translate(15.2,239.8) rotate(0.05)" font-size="6.2" text-anchor="end" fill="#3a3a3a">0.5</text>
<text transform="translate(15.2,226.35) rotate(0.05)" font-size="6.2" text-anchor="end" fill="#3a3a3a">1</text>
<rect x="90.3" y="278.9" width="18" height="18.4" fill="#fff" stroke="#cecece" stroke-width="0.7"/>
<line x1="91.3" y1="283.75" x2="101.1" y2="283.75" stroke="#0000ff" stroke-width="1.2" stroke-opacity="0.5"/>
<circle cx="96.2" cy="283.75" r="1.2" fill="#0000ff"/>
<text x="101.7" y="285.55" font-family='"Liberation Sans", sans-serif' font-weight="bold" font-size="6.8" fill="#000" stroke="#000" stroke-width="0.2">y</text>
<line x1="91.3" y1="292.45" x2="101.1" y2="292.45" stroke="#ff0000" stroke-width="0.9"/>
<text x="101.7" y="294.25" font-family='"Liberation Sans", sans-serif' font-weight="bold" font-size="6.8" fill="#000" stroke="#000" stroke-width="0.2">ŷ</text>
<rect x="157" y="219.8" width="107.6" height="84.65" fill="#fff"/>
<line x1="178.52" y1="219.8" x2="178.52" y2="304.45" stroke="#efefef" stroke-width="0.6"/>
<line x1="200.04" y1="219.8" x2="200.04" y2="304.45" stroke="#efefef" stroke-width="0.6"/>
<line x1="221.56" y1="219.8" x2="221.56" y2="304.45" stroke="#efefef" stroke-width="0.6"/>
<line x1="243.08" y1="219.8" x2="243.08" y2="304.45" stroke="#efefef" stroke-width="0.6"/>
<line x1="157" y1="287.72" x2="264.6" y2="287.72" stroke="#efefef" stroke-width="0.6"/>
<line x1="157" y1="270.79" x2="264.6" y2="270.79" stroke="#efefef" stroke-width="0.6"/>
<line x1="157" y1="253.86" x2="264.6" y2="253.86" stroke="#efefef" stroke-width="0.6"/>
<line x1="157" y1="236.93" x2="264.6" y2="236.93" stroke="#efefef" stroke-width="0.6"/>
<polyline points="158.08,253.86 159.15,253.86 160.23,253.86 161.3,253.86 162.38,253.86 163.46,253.86 164.53,253.86 165.61,253.86 166.68,253.86" fill="none" stroke="#0000ff" stroke-width="1.1" stroke-linejoin="round" stroke-opacity="0.62"/>
<polyline points="168.84,253.86 169.91,253.86 170.99,253.86 172.06,241.5 173.14,253.86 174.22,253.86 175.29,253.86 176.37,239.98 177.44,258.43 178.52,253.86 179.6,253.86 180.67,253.86 181.75,231 182.82,253.86 183.9,253.86 184.98,253.86 186.05,272.14 187.13,253.86 188.2,253.86 189.28,253.86 190.36,253.86 191.43,253.86 192.51,253.86 193.58,269.6 194.66,253.86 195.74,253.86 196.81,253.86 197.89,242.35 198.96,253.86 200.04,253.86 201.12,260.97 202.19,253.86 203.27,253.86 204.34,267.4 205.42,253.86 206.5,253.86 207.57,253.86 208.65,253.86 209.72,253.86 210.8,253.86 211.88,253.86 212.95,253.86 214.03,253.86 215.1,253.86 216.18,253.86 217.26,253.86 218.33,253.86 219.41,252.34 220.48,252.17 221.56,251.32 222.64,253.86 223.71,253.86 224.79,253.86 225.86,274.18 226.94,269.1 228.02,253.86 229.09,234.39 230.17,253.86 231.24,253.86 232.32,253.86 233.4,253.86 234.47,247.09 235.55,253.86" fill="none" stroke="#0000ff" stroke-width="1.1" stroke-linejoin="round" stroke-opacity="0.62"/>
<polyline points="237.7,253.86 238.78,257.25 239.85,253.86 240.93,253.86 242,271.64 243.08,256.4 244.16,249.29 245.23,275.02 246.31,253.86 247.38,253.86 248.46,253.86 249.54,253.86 250.61,253.86 251.69,253.86 252.76,256.4 253.84,253.86 254.92,253.86 255.99,244.04 257.07,253.86 258.14,264.53 259.22,253.86 260.3,253.86 261.37,253.86 262.45,253.86 263.52,253.86 264.6,253.86" fill="none" stroke="#0000ff" stroke-width="1.1" stroke-linejoin="round" stroke-opacity="0.62"/>
<circle cx="158.08" cy="253.86" r="0.85" fill="#0000ff"/>
<circle cx="159.15" cy="253.86" r="0.85" fill="#0000ff"/>
<circle cx="160.23" cy="253.86" r="0.85" fill="#0000ff"/>
<circle cx="161.3" cy="253.86" r="0.85" fill="#0000ff"/>
<circle cx="162.38" cy="253.86" r="0.85" fill="#0000ff"/>
<circle cx="163.46" cy="253.86" r="0.85" fill="#0000ff"/>
<circle cx="164.53" cy="253.86" r="0.85" fill="#0000ff"/>
<circle cx="165.61" cy="253.86" r="0.85" fill="#0000ff"/>
<circle cx="166.68" cy="253.86" r="0.85" fill="#0000ff"/>
<circle cx="167.76" cy="291.95" r="1.1" fill="#0000ff"/>
<circle cx="168.84" cy="253.86" r="0.85" fill="#0000ff"/>
<circle cx="169.91" cy="253.86" r="0.85" fill="#0000ff"/>
<circle cx="170.99" cy="253.86" r="0.85" fill="#0000ff"/>
<circle cx="172.06" cy="241.5" r="1.1" fill="#0000ff"/>
<circle cx="173.14" cy="253.86" r="0.85" fill="#0000ff"/>
<circle cx="174.22" cy="253.86" r="0.85" fill="#0000ff"/>
<circle cx="175.29" cy="253.86" r="0.85" fill="#0000ff"/>
<circle cx="176.37" cy="239.98" r="1.1" fill="#0000ff"/>
<circle cx="177.44" cy="258.43" r="1.1" fill="#0000ff"/>
<circle cx="178.52" cy="253.86" r="0.85" fill="#0000ff"/>
<circle cx="179.6" cy="253.86" r="0.85" fill="#0000ff"/>
<circle cx="180.67" cy="253.86" r="0.85" fill="#0000ff"/>
<circle cx="181.75" cy="231" r="1.1" fill="#0000ff"/>
<circle cx="182.82" cy="253.86" r="0.85" fill="#0000ff"/>
<circle cx="183.9" cy="253.86" r="0.85" fill="#0000ff"/>
<circle cx="184.98" cy="253.86" r="0.85" fill="#0000ff"/>
<circle cx="186.05" cy="272.14" r="1.1" fill="#0000ff"/>
<circle cx="187.13" cy="253.86" r="0.85" fill="#0000ff"/>
<circle cx="188.2" cy="253.86" r="0.85" fill="#0000ff"/>
<circle cx="189.28" cy="253.86" r="0.85" fill="#0000ff"/>
<circle cx="190.36" cy="253.86" r="0.85" fill="#0000ff"/>
<circle cx="191.43" cy="253.86" r="0.85" fill="#0000ff"/>
<circle cx="192.51" cy="253.86" r="0.85" fill="#0000ff"/>
<circle cx="193.58" cy="269.6" r="1.1" fill="#0000ff"/>
<circle cx="194.66" cy="253.86" r="0.85" fill="#0000ff"/>
<circle cx="195.74" cy="253.86" r="0.85" fill="#0000ff"/>
<circle cx="196.81" cy="253.86" r="0.85" fill="#0000ff"/>
<circle cx="197.89" cy="242.35" r="1.1" fill="#0000ff"/>
<circle cx="198.96" cy="253.86" r="0.85" fill="#0000ff"/>
<circle cx="200.04" cy="253.86" r="0.85" fill="#0000ff"/>
<circle cx="201.12" cy="260.97" r="1.1" fill="#0000ff"/>
<circle cx="202.19" cy="253.86" r="0.85" fill="#0000ff"/>
<circle cx="203.27" cy="253.86" r="0.85" fill="#0000ff"/>
<circle cx="204.34" cy="267.4" r="1.1" fill="#0000ff"/>
<circle cx="205.42" cy="253.86" r="0.85" fill="#0000ff"/>
<circle cx="206.5" cy="253.86" r="0.85" fill="#0000ff"/>
<circle cx="207.57" cy="253.86" r="0.85" fill="#0000ff"/>
<circle cx="208.65" cy="253.86" r="0.85" fill="#0000ff"/>
<circle cx="209.72" cy="253.86" r="0.85" fill="#0000ff"/>
<circle cx="210.8" cy="253.86" r="0.85" fill="#0000ff"/>
<circle cx="211.88" cy="253.86" r="0.85" fill="#0000ff"/>
<circle cx="212.95" cy="253.86" r="0.85" fill="#0000ff"/>
<circle cx="214.03" cy="253.86" r="0.85" fill="#0000ff"/>
<circle cx="215.1" cy="253.86" r="0.85" fill="#0000ff"/>
<circle cx="216.18" cy="253.86" r="0.85" fill="#0000ff"/>
<circle cx="217.26" cy="253.86" r="0.85" fill="#0000ff"/>
<circle cx="218.33" cy="253.86" r="0.85" fill="#0000ff"/>
<circle cx="219.41" cy="252.34" r="0.85" fill="#0000ff"/>
<circle cx="220.48" cy="252.17" r="0.85" fill="#0000ff"/>
<circle cx="221.56" cy="251.32" r="0.85" fill="#0000ff"/>
<circle cx="222.64" cy="253.86" r="0.85" fill="#0000ff"/>
<circle cx="223.71" cy="253.86" r="0.85" fill="#0000ff"/>
<circle cx="224.79" cy="253.86" r="0.85" fill="#0000ff"/>
<circle cx="225.86" cy="274.18" r="1.1" fill="#0000ff"/>
<circle cx="226.94" cy="269.1" r="1.1" fill="#0000ff"/>
<circle cx="228.02" cy="253.86" r="0.85" fill="#0000ff"/>
<circle cx="229.09" cy="234.39" r="1.1" fill="#0000ff"/>
<circle cx="230.17" cy="253.86" r="0.85" fill="#0000ff"/>
<circle cx="231.24" cy="253.86" r="0.85" fill="#0000ff"/>
<circle cx="232.32" cy="253.86" r="0.85" fill="#0000ff"/>
<circle cx="233.4" cy="253.86" r="0.85" fill="#0000ff"/>
<circle cx="234.47" cy="247.09" r="1.1" fill="#0000ff"/>
<circle cx="235.55" cy="253.86" r="0.85" fill="#0000ff"/>
<circle cx="236.62" cy="273.67" r="1.1" fill="#0000ff"/>
<circle cx="237.7" cy="253.86" r="0.85" fill="#0000ff"/>
<circle cx="238.78" cy="257.25" r="0.85" fill="#0000ff"/>
<circle cx="239.85" cy="253.86" r="0.85" fill="#0000ff"/>
<circle cx="240.93" cy="253.86" r="0.85" fill="#0000ff"/>
<circle cx="242" cy="271.64" r="1.1" fill="#0000ff"/>
<circle cx="243.08" cy="256.4" r="0.85" fill="#0000ff"/>
<circle cx="244.16" cy="249.29" r="1.1" fill="#0000ff"/>
<circle cx="245.23" cy="275.02" r="1.1" fill="#0000ff"/>
<circle cx="246.31" cy="253.86" r="0.85" fill="#0000ff"/>
<circle cx="247.38" cy="253.86" r="0.85" fill="#0000ff"/>
<circle cx="248.46" cy="253.86" r="0.85" fill="#0000ff"/>
<circle cx="249.54" cy="253.86" r="0.85" fill="#0000ff"/>
<circle cx="250.61" cy="253.86" r="0.85" fill="#0000ff"/>
<circle cx="251.69" cy="253.86" r="0.85" fill="#0000ff"/>
<circle cx="252.76" cy="256.4" r="0.85" fill="#0000ff"/>
<circle cx="253.84" cy="253.86" r="0.85" fill="#0000ff"/>
<circle cx="254.92" cy="253.86" r="0.85" fill="#0000ff"/>
<circle cx="255.99" cy="244.04" r="1.1" fill="#0000ff"/>
<circle cx="257.07" cy="253.86" r="0.85" fill="#0000ff"/>
<circle cx="258.14" cy="264.53" r="1.1" fill="#0000ff"/>
<circle cx="259.22" cy="253.86" r="0.85" fill="#0000ff"/>
<circle cx="260.3" cy="253.86" r="0.85" fill="#0000ff"/>
<circle cx="261.37" cy="253.86" r="0.85" fill="#0000ff"/>
<circle cx="262.45" cy="253.86" r="0.85" fill="#0000ff"/>
<circle cx="263.52" cy="253.86" r="0.85" fill="#0000ff"/>
<circle cx="264.6" cy="253.86" r="0.85" fill="#0000ff"/>
<line x1="158.08" y1="253.86" x2="264.6" y2="253.86" stroke="#ff0000" stroke-width="1.3" stroke-opacity="0.42"/>
<polyline points="166.68,253.86 167.76,302.96 168.84,253.86" fill="none" stroke="#ff0000" stroke-width="0.8" stroke-linejoin="round" stroke-opacity="0.9"/>
<polyline points="235.55,253.86 236.62,290.26 237.7,253.86" fill="none" stroke="#ff0000" stroke-width="0.8" stroke-linejoin="round" stroke-opacity="0.9"/>
<rect x="157" y="219.8" width="107.6" height="84.65" fill="none" stroke="#c6c6c6" stroke-width="0.7"/>
<text transform="translate(157,312.75) rotate(0.05)" font-size="6.2" text-anchor="middle" fill="#3a3a3a">0</text>
<text transform="translate(178.52,312.75) rotate(0.05)" font-size="6.2" text-anchor="middle" fill="#3a3a3a">20</text>
<text transform="translate(200.04,312.75) rotate(0.05)" font-size="6.2" text-anchor="middle" fill="#3a3a3a">40</text>
<text transform="translate(221.56,312.75) rotate(0.05)" font-size="6.2" text-anchor="middle" fill="#3a3a3a">60</text>
<text transform="translate(243.08,312.75) rotate(0.05)" font-size="6.2" text-anchor="middle" fill="#3a3a3a">80</text>
<text transform="translate(264.6,312.75) rotate(0.05)" font-size="6.2" text-anchor="middle" fill="#3a3a3a">100</text>
<text transform="translate(155.1,307.05) rotate(0.05)" font-size="6.2" text-anchor="end" fill="#3a3a3a">-3</text>
<text transform="translate(155.1,290.12) rotate(0.05)" font-size="6.2" text-anchor="end" fill="#3a3a3a">-2</text>
<text transform="translate(155.1,273.19) rotate(0.05)" font-size="6.2" text-anchor="end" fill="#3a3a3a">-1</text>
<text transform="translate(155.1,256.26) rotate(0.05)" font-size="6.2" text-anchor="end" fill="#3a3a3a">0</text>
<text transform="translate(155.1,239.33) rotate(0.05)" font-size="6.2" text-anchor="end" fill="#3a3a3a">1</text>
<text transform="translate(155.1,222.4) rotate(0.05)" font-size="6.2" text-anchor="end" fill="#3a3a3a">2</text>
<rect x="237.6" y="277.6" width="20" height="18.6" fill="#fff" stroke="#cecece" stroke-width="0.7"/>
<line x1="238.6" y1="282.55" x2="248.6" y2="282.55" stroke="#0000ff" stroke-width="1.2" stroke-opacity="0.5"/>
<circle cx="243.6" cy="282.55" r="1.2" fill="#0000ff"/>
<text x="249.5" y="284.45" font-family='"Liberation Serif", serif' font-weight="bold" font-size="8" fill="#000" stroke="#000" stroke-width="0.25">x<tspan font-size="4.96" font-style="italic" dy="1.1">s</tspan></text>
<line x1="238.6" y1="291.25" x2="248.6" y2="291.25" stroke="#ff0000" stroke-width="0.9"/>
<text x="249.5" y="293.15" font-family='"Liberation Serif", serif' font-weight="bold" font-size="8" fill="#000" stroke="#000" stroke-width="0.25">x̂<tspan font-size="4.96" font-style="italic" dy="1.1">s</tspan></text>
<rect x="296.5" y="219.8" width="107.35" height="84.7" fill="#fff"/>
<line x1="318.22" y1="219.8" x2="318.22" y2="304.5" stroke="#efefef" stroke-width="0.6"/>
<line x1="339.69" y1="219.8" x2="339.69" y2="304.5" stroke="#efefef" stroke-width="0.6"/>
<line x1="361.16" y1="219.8" x2="361.16" y2="304.5" stroke="#efefef" stroke-width="0.6"/>
<line x1="382.63" y1="219.8" x2="382.63" y2="304.5" stroke="#efefef" stroke-width="0.6"/>
<line x1="296.5" y1="287.56" x2="403.85" y2="287.56" stroke="#efefef" stroke-width="0.6"/>
<line x1="296.5" y1="270.62" x2="403.85" y2="270.62" stroke="#efefef" stroke-width="0.6"/>
<line x1="296.5" y1="253.68" x2="403.85" y2="253.68" stroke="#efefef" stroke-width="0.6"/>
<line x1="296.5" y1="236.74" x2="403.85" y2="236.74" stroke="#efefef" stroke-width="0.6"/>
<line x1="311.78" y1="304.5" x2="311.78" y2="219.8" stroke="#0000ff" stroke-width="0.85" stroke-opacity="0.75"/>
<line x1="316.07" y1="304.5" x2="316.07" y2="219.8" stroke="#0000ff" stroke-width="0.85" stroke-opacity="0.75"/>
<line x1="317.15" y1="304.5" x2="317.15" y2="219.8" stroke="#0000ff" stroke-width="0.85" stroke-opacity="0.75"/>
<line x1="321.44" y1="304.5" x2="321.44" y2="219.8" stroke="#0000ff" stroke-width="0.85" stroke-opacity="0.75"/>
<line x1="325.73" y1="304.5" x2="325.73" y2="219.8" stroke="#0000ff" stroke-width="0.85" stroke-opacity="0.75"/>
<line x1="333.25" y1="304.5" x2="333.25" y2="219.8" stroke="#0000ff" stroke-width="0.85" stroke-opacity="0.75"/>
<line x1="337.54" y1="304.5" x2="337.54" y2="219.8" stroke="#0000ff" stroke-width="0.85" stroke-opacity="0.75"/>
<line x1="340.76" y1="304.5" x2="340.76" y2="219.8" stroke="#0000ff" stroke-width="0.85" stroke-opacity="0.75"/>
<line x1="343.98" y1="304.5" x2="343.98" y2="219.8" stroke="#0000ff" stroke-width="0.85" stroke-opacity="0.75"/>
<line x1="359.01" y1="304.5" x2="359.01" y2="219.8" stroke="#0000ff" stroke-width="0.85" stroke-opacity="0.75"/>
<line x1="361.16" y1="304.5" x2="361.16" y2="219.8" stroke="#0000ff" stroke-width="0.85" stroke-opacity="0.75"/>
<line x1="365.45" y1="304.5" x2="365.45" y2="219.8" stroke="#0000ff" stroke-width="0.85" stroke-opacity="0.75"/>
<line x1="366.53" y1="304.5" x2="366.53" y2="219.8" stroke="#0000ff" stroke-width="0.85" stroke-opacity="0.75"/>
<line x1="368.67" y1="304.5" x2="368.67" y2="219.8" stroke="#0000ff" stroke-width="0.85" stroke-opacity="0.75"/>
<line x1="374.04" y1="304.5" x2="374.04" y2="219.8" stroke="#0000ff" stroke-width="0.85" stroke-opacity="0.75"/>
<line x1="378.34" y1="304.5" x2="378.34" y2="219.8" stroke="#0000ff" stroke-width="0.85" stroke-opacity="0.75"/>
<line x1="381.56" y1="304.5" x2="381.56" y2="219.8" stroke="#0000ff" stroke-width="0.85" stroke-opacity="0.75"/>
<line x1="382.63" y1="304.5" x2="382.63" y2="219.8" stroke="#0000ff" stroke-width="0.85" stroke-opacity="0.75"/>
<line x1="383.7" y1="304.5" x2="383.7" y2="219.8" stroke="#0000ff" stroke-width="0.85" stroke-opacity="0.75"/>
<line x1="384.78" y1="304.5" x2="384.78" y2="219.8" stroke="#0000ff" stroke-width="0.85" stroke-opacity="0.75"/>
<line x1="392.29" y1="304.5" x2="392.29" y2="219.8" stroke="#0000ff" stroke-width="0.85" stroke-opacity="0.75"/>
<line x1="395.51" y1="304.5" x2="395.51" y2="219.8" stroke="#0000ff" stroke-width="0.85" stroke-opacity="0.75"/>
<line x1="397.66" y1="304.5" x2="397.66" y2="219.8" stroke="#0000ff" stroke-width="0.85" stroke-opacity="0.75"/>
<rect x="296.5" y="219.8" width="107.35" height="84.7" fill="none" stroke="#c6c6c6" stroke-width="0.7"/>
<circle cx="307.49" cy="220.05" r="1.0" fill="#0000ff"/>
<circle cx="311.78" cy="220.05" r="1.0" fill="#0000ff"/>
<circle cx="316.07" cy="220.05" r="1.0" fill="#0000ff"/>
<circle cx="317.15" cy="220.05" r="1.0" fill="#0000ff"/>
<circle cx="321.44" cy="220.05" r="1.0" fill="#0000ff"/>
<circle cx="325.73" cy="220.05" r="1.0" fill="#0000ff"/>
<circle cx="333.25" cy="220.05" r="1.0" fill="#0000ff"/>
<circle cx="337.54" cy="220.05" r="1.0" fill="#0000ff"/>
<circle cx="340.76" cy="220.05" r="1.0" fill="#0000ff"/>
<circle cx="343.98" cy="220.05" r="1.0" fill="#0000ff"/>
<circle cx="359.01" cy="220.05" r="1.0" fill="#0000ff"/>
<circle cx="360.09" cy="220.05" r="1.0" fill="#0000ff"/>
<circle cx="361.16" cy="220.05" r="1.0" fill="#0000ff"/>
<circle cx="365.45" cy="220.05" r="1.0" fill="#0000ff"/>
<circle cx="366.53" cy="220.05" r="1.0" fill="#0000ff"/>
<circle cx="368.67" cy="220.05" r="1.0" fill="#0000ff"/>
<circle cx="374.04" cy="220.05" r="1.0" fill="#0000ff"/>
<circle cx="376.19" cy="220.05" r="1.0" fill="#0000ff"/>
<circle cx="378.34" cy="220.05" r="1.0" fill="#0000ff"/>
<circle cx="381.56" cy="220.05" r="1.0" fill="#0000ff"/>
<circle cx="382.63" cy="220.05" r="1.0" fill="#0000ff"/>
<circle cx="383.7" cy="220.05" r="1.0" fill="#0000ff"/>
<circle cx="384.78" cy="220.05" r="1.0" fill="#0000ff"/>
<circle cx="392.29" cy="220.05" r="1.0" fill="#0000ff"/>
<circle cx="395.51" cy="220.05" r="1.0" fill="#0000ff"/>
<circle cx="397.66" cy="220.05" r="1.0" fill="#0000ff"/>
<line x1="307.49" y1="304.5" x2="307.49" y2="219.8" stroke="#ff0000" stroke-width="0.8" stroke-opacity="0.85"/>
<circle cx="307.49" cy="220.05" r="1.05" fill="#ff0000"/>
<line x1="375.99" y1="304.5" x2="375.99" y2="219.8" stroke="#ff3010" stroke-width="1.7" stroke-opacity="0.55"/>
<circle cx="376.19" cy="220.05" r="1.05" fill="#ff0000"/>
<line x1="296.8" y1="304.8" x2="404.85" y2="304.8" stroke="#ff0000" stroke-width="2.6"/>
<text transform="translate(296.75,312.8) rotate(0.05)" font-size="6.2" text-anchor="middle" fill="#3a3a3a">0</text>
<text transform="translate(318.22,312.8) rotate(0.05)" font-size="6.2" text-anchor="middle" fill="#3a3a3a">20</text>
<text transform="translate(339.69,312.8) rotate(0.05)" font-size="6.2" text-anchor="middle" fill="#3a3a3a">40</text>
<text transform="translate(361.16,312.8) rotate(0.05)" font-size="6.2" text-anchor="middle" fill="#3a3a3a">60</text>
<text transform="translate(382.63,312.8) rotate(0.05)" font-size="6.2" text-anchor="middle" fill="#3a3a3a">80</text>
<text transform="translate(404.1,312.8) rotate(0.05)" font-size="6.2" text-anchor="middle" fill="#3a3a3a">100</text>
<text transform="translate(294.6,307.1) rotate(0.05)" font-size="6.2" text-anchor="end" fill="#3a3a3a">0</text>
<text transform="translate(294.6,290.16) rotate(0.05)" font-size="6.2" text-anchor="end" fill="#3a3a3a">0.2</text>
<text transform="translate(294.6,273.22) rotate(0.05)" font-size="6.2" text-anchor="end" fill="#3a3a3a">0.4</text>
<text transform="translate(294.6,256.28) rotate(0.05)" font-size="6.2" text-anchor="end" fill="#3a3a3a">0.6</text>
<text transform="translate(294.6,239.34) rotate(0.05)" font-size="6.2" text-anchor="end" fill="#3a3a3a">0.8</text>
<text transform="translate(294.6,222.4) rotate(0.05)" font-size="6.2" text-anchor="end" fill="#3a3a3a">1</text>
<rect x="380.6" y="253.6" width="16" height="18" fill="#fff" stroke="#cecece" stroke-width="0.7"/>
<line x1="381.8" y1="258.25" x2="389.4" y2="258.25" stroke="#0000ff" stroke-width="1.2" stroke-opacity="0.5"/>
<circle cx="388.8" cy="258.25" r="1.2" fill="#0000ff"/>
<text x="392.1" y="259.95" font-family='"Liberation Sans", sans-serif' font-weight="bold" font-size="6.4" fill="#000" stroke="#000" stroke-width="0">s</text>
<line x1="381.8" y1="266.95" x2="389.4" y2="266.95" stroke="#ff0000" stroke-width="0.9"/>
<circle cx="388.8" cy="266.95" r="1.2" fill="#ff0000"/>
<text x="392.1" y="268.65" font-family='"Liberation Sans", sans-serif' font-weight="bold" font-size="6.4" fill="#000" stroke="#000" stroke-width="0">ŝ</text>
<rect x="436.5" y="220" width="107.3" height="77.7" fill="#3e26a8"/>
<rect x="436.9" y="226.81" width="106.9" height="1.15" fill="#d0c048"/>
<rect x="436.9" y="276.53" width="106.9" height="1.15" fill="#d0c048"/>
<text transform="translate(452.94,306.2) rotate(0.05)" font-size="6.2" text-anchor="middle" fill="#3a3a3a">50</text>
<text transform="translate(469.54,306.2) rotate(0.05)" font-size="6.2" text-anchor="middle" fill="#3a3a3a">100</text>
<text transform="translate(486.15,306.2) rotate(0.05)" font-size="6.2" text-anchor="middle" fill="#3a3a3a">150</text>
<text transform="translate(502.75,306.2) rotate(0.05)" font-size="6.2" text-anchor="middle" fill="#3a3a3a">200</text>
<text transform="translate(519.36,306.2) rotate(0.05)" font-size="6.2" text-anchor="middle" fill="#3a3a3a">250</text>
<text transform="translate(535.96,306.2) rotate(0.05)" font-size="6.2" text-anchor="middle" fill="#3a3a3a">300</text>
<text transform="translate(434.6,237.75) rotate(0.05)" font-size="6.2" text-anchor="end" fill="#3a3a3a">20</text>
<text transform="translate(434.6,253.29) rotate(0.05)" font-size="6.2" text-anchor="end" fill="#3a3a3a">40</text>
<text transform="translate(434.6,268.83) rotate(0.05)" font-size="6.2" text-anchor="end" fill="#3a3a3a">60</text>
<text transform="translate(434.6,284.37) rotate(0.05)" font-size="6.2" text-anchor="end" fill="#3a3a3a">80</text>
<text transform="translate(434.6,299.91) rotate(0.05)" font-size="6.2" text-anchor="end" fill="#3a3a3a">100</text>
<text transform="translate(490.15,315.1) rotate(0.05)" font-size="7.3" text-anchor="middle" fill="#3a3a3a">Iteration</text>
<text transform="translate(425,258.85) rotate(-90)" text-anchor="middle" font-family='"Liberation Serif", serif' font-size="7" fill="#000"><tspan font-weight="bold">ŝ</tspan><tspan font-size="5.3" font-style="italic" dy="1.2">collect</tspan></text>
<rect x="278.2" y="210.1" width="1.4" height="0.6" fill="#dcdcc8"/>
</svg>
</body></html>
